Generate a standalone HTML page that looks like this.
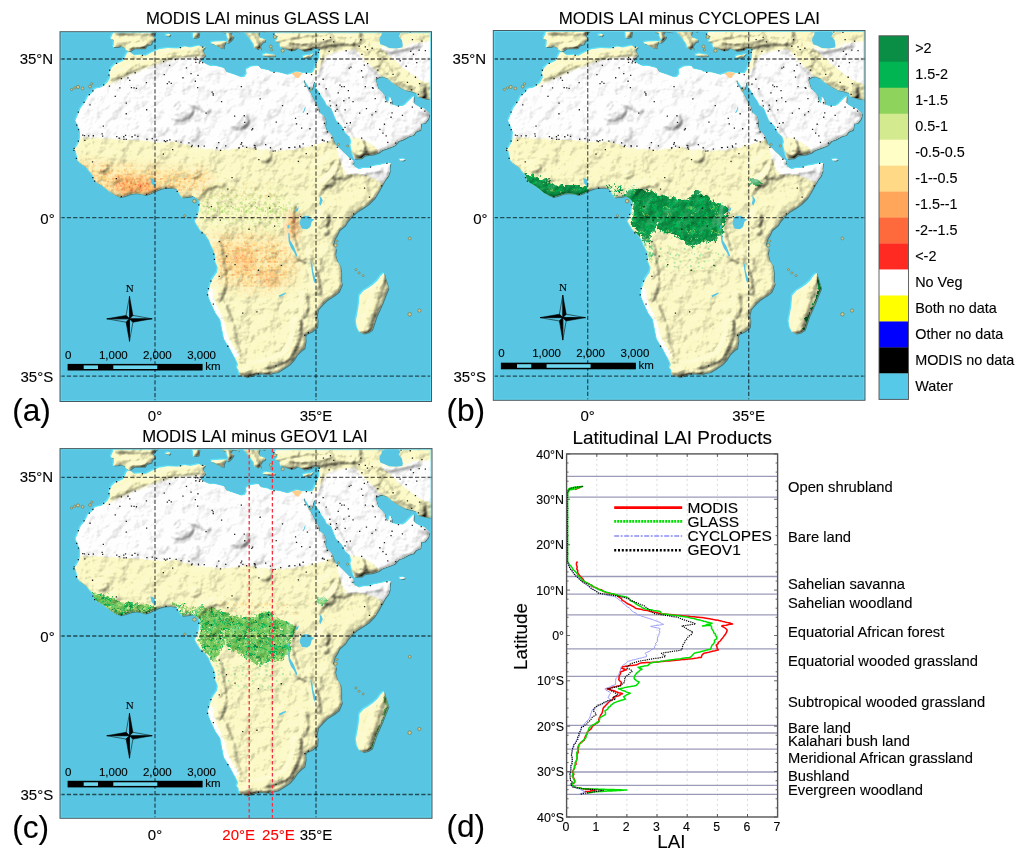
<!DOCTYPE html><html><head><meta charset="utf-8"><title>LAI comparison</title><style>html,body{margin:0;padding:0;background:#fff;width:1024px;height:858px;overflow:hidden}svg{display:block}text{font-family:"Liberation Sans", Arial, Helvetica, sans-serif;fill:#000;stroke:#000;stroke-width:0.22px;stroke-opacity:0.55}</style></head><body>
<svg width="1024" height="858" viewBox="0 0 1024 858">
<defs>
<filter id="hill" filterUnits="userSpaceOnUse" x="58.0" y="29.7" width="375.5" height="373.8" color-interpolation-filters="sRGB">
<feGaussianBlur in="SourceAlpha" stdDeviation="1.30" result="h"/>
<feGaussianBlur in="SourceAlpha" stdDeviation="5.00" result="m"/>
<feTurbulence type="fractalNoise" baseFrequency="0.065" numOctaves="4" seed="7" result="n1"/>
<feColorMatrix in="n1" type="matrix" values="0 0 0 0 0  0 0 0 0 0  0 0 0 0 0  1 0 0 0 0" result="n1a"/>
<feComposite in="n1a" in2="m" operator="arithmetic" k1="1.100" k2="0.060" result="n1m"/>
<feTurbulence type="fractalNoise" baseFrequency="0.160" numOctaves="2" seed="3" result="n2"/>
<feColorMatrix in="n2" type="matrix" values="0 0 0 0 0  0 0 0 0 0  0 0 0 0 0  0.070 0 0 0 0" result="n2a"/>
<feComposite in="h" in2="n1m" operator="arithmetic" k2="1" k3="1" result="hh1"/>
<feComposite in="hh1" in2="n2a" operator="arithmetic" k2="1" k3="1" result="hh"/>
<feDiffuseLighting in="hh" surfaceScale="5.00" diffuseConstant="1" lighting-color="#ffffff" result="lit"><feDistantLight azimuth="225" elevation="45"/></feDiffuseLighting>
<feColorMatrix in="lit" type="matrix" values="0 0 0 0 0  0 0 0 0 0  0 0 0 0 0  -1.3435 0 0 0 0.9500" result="dk"/>
<feColorMatrix in="lit" type="matrix" values="0 0 0 0 1  0 0 0 0 1  0 0 0 0 1  1.4142 0 0 0 -1.0000" result="lt"/>
<feMerge><feMergeNode in="dk"/><feMergeNode in="lt"/></feMerge>
</filter>
<g id="shade"><g filter="url(#hill)">
<rect x="60.0" y="31.7" width="371.5" height="369.8" fill="#000" fill-opacity="0.004"/>
<path d="M127.3 52.5 L130.0 52.1 L134.2 55.3 L141.1 54.8 L145.7 55.7 L151.6 52.5 L159.0 49.3 L168.2 47.9 L177.9 48.4 L184.8 46.5 L190.3 47.5 L199.5 45.6 L201.8 47.5 L205.5 46.5 L202.7 50.2 L204.1 53.4 L205.5 55.3 L200.9 59.4 L201.3 61.3 L205.5 64.0 L209.6 65.9 L215.1 65.9 L223.9 68.2 L226.6 72.3 L234.9 75.1 L241.3 77.4 L244.6 76.9 L246.9 73.7 L246.4 69.5 L251.0 66.8 L258.4 65.9 L261.1 69.1 L268.9 70.5 L270.3 71.8 L279.5 72.8 L287.8 75.1 L291.9 73.7 L297.0 71.8 L303.0 73.2 L311.7 73.2 L313.1 71.8 L314.5 69.5 L315.4 66.3 L316.3 64.0 L317.7 61.3 L319.1 58.0 L319.5 53.9 L319.1 50.7 L320.9 48.8 L318.2 48.4 L313.6 47.9 L310.3 50.2 L303.9 51.1 L297.0 47.9 L294.7 49.8 L290.6 50.7 L284.6 48.4 L280.4 47.0 L279.5 42.9 L275.4 41.0 L277.2 39.2 L277.7 36.0 L274.5 35.5 L274.9 32.7 L276.8 30.9 L274.0 29.5 L274.0 19.4 L439.6 19.4 L439.6 101.3 L437.8 100.4 L430.4 99.4 L424.9 98.5 L418.0 96.7 L416.1 93.0 L412.0 91.6 L405.1 90.2 L399.1 87.0 L392.7 82.9 L387.2 78.3 L382.1 76.4 L378.9 76.9 L376.1 78.7 L375.2 79.7 L376.1 82.0 L378.0 88.4 L382.6 93.0 L384.9 96.2 L385.3 99.4 L388.1 103.6 L389.9 97.1 L391.8 100.8 L391.8 104.5 L395.9 105.9 L402.8 106.3 L405.6 104.5 L409.2 100.8 L412.0 98.1 L413.8 95.8 L413.8 99.4 L413.4 102.7 L415.7 105.0 L420.3 107.7 L424.0 108.6 L429.5 113.7 L428.1 118.8 L424.9 122.9 L421.2 123.4 L420.3 129.8 L415.7 131.6 L413.4 134.9 L408.8 136.2 L402.8 139.5 L398.7 140.8 L394.5 145.4 L389.9 147.3 L382.1 150.0 L378.4 152.8 L372.9 154.6 L364.6 155.6 L361.4 158.3 L354.5 158.8 L353.1 156.0 L351.3 149.1 L350.4 145.0 L351.3 141.8 L349.9 136.7 L345.8 133.0 L342.1 126.1 L336.6 120.6 L334.3 115.1 L331.5 108.2 L326.9 105.0 L325.5 101.7 L322.3 97.1 L318.2 90.2 L316.3 87.9 L314.9 81.5 L313.6 82.4 L312.6 87.0 L311.7 89.3 L309.0 87.0 L304.4 79.7 L303.4 81.0 L304.8 84.7 L307.1 87.9 L310.3 93.0 L312.2 96.7 L315.4 103.1 L318.2 107.3 L319.1 112.3 L323.7 116.0 L325.5 120.6 L325.1 126.1 L326.4 130.3 L330.1 133.5 L332.0 136.2 L334.7 143.6 L337.0 146.4 L339.3 148.2 L343.0 151.9 L346.2 155.1 L349.0 157.9 L353.1 160.6 L353.6 162.9 L350.8 164.3 L353.1 164.8 L355.0 167.1 L359.1 169.4 L363.7 168.0 L368.8 168.0 L373.8 166.1 L379.3 165.2 L385.3 163.8 L390.4 162.9 L389.5 168.9 L389.9 170.7 L388.1 175.8 L384.9 179.9 L381.6 185.9 L378.0 192.4 L374.3 198.3 L368.8 203.9 L362.8 208.0 L356.8 211.7 L352.2 215.8 L347.1 221.8 L345.3 225.0 L342.1 227.8 L339.3 230.1 L337.0 235.1 L334.7 238.8 L332.9 245.3 L336.1 248.9 L335.2 254.0 L337.0 260.9 L340.2 265.5 L341.2 272.4 L341.2 281.6 L342.1 283.9 L338.9 291.7 L334.3 295.4 L326.9 300.0 L322.8 304.1 L318.2 309.2 L316.8 315.6 L317.7 320.2 L317.2 327.1 L312.2 331.3 L306.2 334.0 L305.3 336.3 L305.7 340.9 L304.4 348.3 L301.1 350.6 L297.0 354.7 L293.8 359.8 L289.6 364.4 L284.1 368.1 L277.7 372.2 L272.2 373.1 L268.5 374.5 L262.0 373.6 L256.5 374.1 L252.8 375.4 L246.4 377.3 L243.2 375.9 L239.5 375.0 L239.0 373.1 L238.6 369.9 L236.7 367.6 L238.1 364.4 L235.4 358.4 L230.3 348.8 L227.1 343.7 L224.3 339.1 L222.9 332.2 L221.1 323.0 L220.6 319.8 L216.0 313.3 L211.9 304.6 L208.7 296.8 L208.2 293.1 L210.5 283.9 L212.8 278.4 L217.0 272.4 L217.9 267.8 L215.1 260.9 L215.6 257.7 L213.7 250.3 L211.0 245.3 L210.5 243.9 L209.1 240.2 L205.5 235.1 L200.4 230.5 L197.2 225.5 L194.9 221.3 L197.2 216.3 L198.6 212.6 L199.5 206.6 L199.9 202.9 L198.1 199.3 L195.3 197.4 L192.6 196.0 L187.1 197.0 L182.0 197.4 L179.7 194.2 L176.5 188.7 L170.0 187.8 L163.6 188.2 L159.9 189.1 L154.4 191.4 L149.8 193.7 L145.2 195.1 L140.1 193.7 L136.0 193.3 L131.4 193.7 L124.5 196.0 L119.9 197.0 L115.3 195.1 L110.7 192.4 L106.1 188.7 L102.0 185.5 L96.9 182.7 L94.1 179.5 L93.2 175.8 L90.0 172.1 L86.8 168.0 L84.9 166.6 L79.9 162.9 L77.6 160.2 L77.1 156.5 L75.7 151.0 L73.9 149.6 L76.2 147.3 L78.5 143.1 L79.9 139.0 L80.3 132.1 L78.5 127.0 L76.7 122.9 L75.7 120.6 L77.6 116.0 L80.8 108.2 L83.6 104.5 L86.3 100.4 L88.2 96.2 L92.3 93.0 L95.1 88.9 L101.5 87.5 L107.5 82.4 L110.2 77.4 L109.3 72.8 L111.6 67.7 L115.3 64.0 L119.4 62.6 L123.1 60.8 L125.4 56.2 Z M108.4 19.4 L113.9 19.4 L113.5 28.6 L113.0 33.2 L110.7 38.7 L113.9 40.1 L113.9 44.7 L113.0 47.0 L117.6 47.0 L120.4 46.1 L125.0 47.9 L125.9 49.8 L128.6 51.6 L130.0 51.1 L134.2 48.4 L140.6 48.4 L144.7 48.4 L146.6 45.6 L151.2 44.2 L152.1 41.5 L155.3 39.2 L153.0 36.0 L154.4 33.2 L157.6 30.4 L159.0 28.6 L164.5 26.8 L169.1 24.5 L169.1 19.4 Z M207.3 19.4 L207.3 22.6 L211.9 26.3 L214.2 27.7 L218.8 29.5 L222.9 32.3 L226.2 33.2 L227.1 36.9 L228.5 39.6 L226.2 42.4 L228.0 42.9 L230.8 40.6 L233.1 37.8 L233.5 36.0 L230.3 34.6 L232.1 31.4 L236.7 31.8 L239.5 32.7 L237.2 30.4 L232.6 28.1 L228.0 26.3 L227.1 19.4 Z M243.2 19.4 L244.1 27.2 L243.6 31.4 L246.4 34.6 L249.6 38.3 L251.5 41.0 L253.8 44.2 L254.2 47.5 L257.4 49.3 L259.3 47.9 L261.1 49.8 L260.2 45.6 L262.5 42.4 L264.8 41.5 L265.3 39.6 L260.2 37.8 L258.4 35.0 L259.7 30.4 L263.9 31.8 L266.2 29.5 L271.7 29.1 L274.0 29.5 L274.0 19.4 Z M211.4 41.9 L216.0 41.5 L226.2 41.0 L223.9 45.6 L223.9 48.4 L220.6 47.9 L213.7 44.2 L211.4 43.3 Z M192.1 27.2 L198.1 27.2 L199.5 30.9 L198.6 36.9 L195.8 37.8 L193.0 37.8 L193.0 33.2 L192.1 30.4 Z M165.0 35.0 L168.7 33.7 L170.5 34.6 L169.1 36.4 L166.8 35.5 Z M262.5 54.8 L266.2 53.4 L271.7 54.4 L275.4 54.8 L274.9 56.2 L268.5 56.7 L263.0 55.3 Z M303.0 56.2 L305.7 55.3 L310.3 54.8 L313.6 53.0 L310.8 56.7 L306.2 58.0 L303.4 57.6 Z M383.9 272.9 L386.2 280.7 L388.5 288.0 L385.8 294.5 L383.0 301.8 L379.8 309.2 L376.6 316.1 L374.3 323.0 L372.0 329.9 L367.8 332.7 L363.2 333.6 L359.1 331.7 L356.8 327.1 L355.9 320.7 L357.3 313.8 L358.6 306.4 L359.6 295.4 L363.7 290.8 L368.3 288.0 L373.4 284.4 L377.5 280.7 L380.7 276.1 Z M399.6 159.2 L403.7 158.8 L405.1 159.7 L402.8 160.6 L400.0 160.2 Z" fill="#000" fill-opacity="0.120"/>
<path d="M110.7 76.9 L122.2 73.2 L131.4 67.7 L145.2 63.1 L159.0 58.5 L172.8 53.9 L186.6 52.5 L195.8 52.5" fill="none" stroke="#000" stroke-opacity="0.10" stroke-width="7.4" stroke-linecap="round" stroke-linejoin="round"/>
<path d="M131.4 55.3 L154.4 53.0 L177.4 50.2 L195.8 48.4" fill="none" stroke="#000" stroke-opacity="0.07" stroke-width="4.6" stroke-linecap="round" stroke-linejoin="round"/>
<ellipse cx="179.7" cy="109.1" rx="13.8" ry="11.5" fill="#000" fill-opacity="0.19"/>
<path d="M184.3 99.9 L195.8 104.5 L207.3 110.5" fill="none" stroke="#000" stroke-opacity="0.19" stroke-width="5.5" stroke-linecap="round" stroke-linejoin="round"/>
<ellipse cx="238.6" cy="120.6" rx="10.1" ry="8.3" fill="#000" fill-opacity="0.23"/>
<ellipse cx="193.5" cy="133.0" rx="5.5" ry="8.3" fill="#000" fill-opacity="0.12"/>
<ellipse cx="257.9" cy="139.0" rx="6.9" ry="5.5" fill="#000" fill-opacity="0.11"/>
<ellipse cx="264.8" cy="155.1" rx="6.9" ry="6.9" fill="#000" fill-opacity="0.11"/>
<ellipse cx="161.3" cy="127.5" rx="6.9" ry="6.9" fill="#000" fill-opacity="0.07"/>
<ellipse cx="271.7" cy="111.4" rx="6.9" ry="5.5" fill="#000" fill-opacity="0.08"/>
<path d="M306.2 88.4 L313.1 102.2 L320.0 116.0 L324.6 129.8" fill="none" stroke="#000" stroke-opacity="0.14" stroke-width="6.9" stroke-linecap="round" stroke-linejoin="round"/>
<ellipse cx="326.9" cy="164.3" rx="6.9" ry="6.9" fill="#000" fill-opacity="0.14"/>
<ellipse cx="336.1" cy="173.5" rx="6.4" ry="6.4" fill="#000" fill-opacity="0.14"/>
<ellipse cx="329.2" cy="180.4" rx="6.0" ry="6.0" fill="#000" fill-opacity="0.13"/>
<ellipse cx="322.3" cy="185.0" rx="5.1" ry="5.1" fill="#000" fill-opacity="0.12"/>
<ellipse cx="331.5" cy="157.4" rx="4.6" ry="6.0" fill="#000" fill-opacity="0.12"/>
<path d="M320.0 191.9 L326.9 180.4 L336.1 168.9 L338.4 159.7" fill="none" stroke="#000" stroke-opacity="0.11" stroke-width="5.5" stroke-linecap="round" stroke-linejoin="round"/>
<ellipse cx="345.3" cy="175.8" rx="4.6" ry="3.7" fill="#000" fill-opacity="0.11"/>
<path d="M347.6 173.5 L366.0 172.1 L379.8 168.9" fill="none" stroke="#000" stroke-opacity="0.14" stroke-width="5.5" stroke-linecap="round" stroke-linejoin="round"/>
<ellipse cx="322.3" cy="219.5" rx="6.9" ry="9.2" fill="#000" fill-opacity="0.17"/>
<ellipse cx="326.0" cy="231.5" rx="3.2" ry="3.2" fill="#000" fill-opacity="0.19"/>
<path d="M292.4 208.0 L290.1 221.8 L289.2 231.0 L291.5 240.2 L296.1 254.0 L308.5 260.9 L312.2 267.8 L315.4 277.0 L317.7 290.8" fill="none" stroke="#000" stroke-opacity="0.17" stroke-width="6.9" stroke-linecap="round" stroke-linejoin="round"/>
<path d="M196.7 197.9 L200.4 191.9 L205.0 187.3 L214.2 183.6 L221.1 184.1" fill="none" stroke="#000" stroke-opacity="0.14" stroke-width="6.9" stroke-linecap="round" stroke-linejoin="round"/>
<ellipse cx="101.5" cy="166.6" rx="6.9" ry="5.5" fill="#000" fill-opacity="0.12"/>
<ellipse cx="115.3" cy="178.1" rx="4.6" ry="4.6" fill="#000" fill-opacity="0.07"/>
<ellipse cx="195.8" cy="173.5" rx="4.6" ry="4.6" fill="#000" fill-opacity="0.10"/>
<path d="M216.5 244.8 L218.8 258.6 L221.1 272.4 L221.1 286.2 L217.9 295.4" fill="none" stroke="#000" stroke-opacity="0.14" stroke-width="10.1" stroke-linecap="round" stroke-linejoin="round"/>
<path d="M218.8 300.0 L225.7 313.8 L230.3 327.6 L232.6 341.4 L237.2 355.2" fill="none" stroke="#000" stroke-opacity="0.12" stroke-width="8.3" stroke-linecap="round" stroke-linejoin="round"/>
<path d="M239.5 362.1 L246.4 366.7 L260.2 365.8 L274.0 362.1 L285.5 357.5 L290.1 350.6 L294.7 341.4 L297.0 332.2 L297.0 323.0" fill="none" stroke="#000" stroke-opacity="0.18" stroke-width="9.2" stroke-linecap="round" stroke-linejoin="round"/>
<path d="M239.5 371.3 L246.4 371.8 L255.6 372.7 L267.1 372.2" fill="none" stroke="#000" stroke-opacity="0.17" stroke-width="4.6" stroke-linecap="round" stroke-linejoin="round"/>
<path d="M303.9 295.4 L305.3 304.6 L303.9 313.8" fill="none" stroke="#000" stroke-opacity="0.14" stroke-width="6.9" stroke-linecap="round" stroke-linejoin="round"/>
<ellipse cx="292.4" cy="304.6" rx="9.2" ry="9.2" fill="#000" fill-opacity="0.07"/>
<path d="M310.8 254.0 L317.7 258.6 L320.0 267.8" fill="none" stroke="#000" stroke-opacity="0.12" stroke-width="5.5" stroke-linecap="round" stroke-linejoin="round"/>
<path d="M380.7 279.3 L376.6 293.1 L372.0 306.9 L368.3 318.4 L365.1 329.0" fill="none" stroke="#000" stroke-opacity="0.11" stroke-width="9.2" stroke-linecap="round" stroke-linejoin="round"/>
<path d="M317.7 86.1 L324.6 97.6 L333.8 111.4 L340.7 125.2 L349.9 139.0 L356.8 150.5 L363.7 154.2" fill="none" stroke="#000" stroke-opacity="0.17" stroke-width="9.2" stroke-linecap="round" stroke-linejoin="round"/>
<ellipse cx="359.1" cy="148.2" rx="6.9" ry="9.2" fill="#000" fill-opacity="0.19"/>
<ellipse cx="375.2" cy="148.2" rx="13.8" ry="4.6" fill="#000" fill-opacity="0.12"/>
<path d="M413.4 99.9 L418.9 109.1 L425.8 113.2" fill="none" stroke="#000" stroke-opacity="0.14" stroke-width="4.6" stroke-linecap="round" stroke-linejoin="round"/>
<path d="M356.8 44.7 L368.3 56.2 L377.5 65.4 L386.7 74.6 L395.9 81.5 L407.4 88.4 L418.9 93.0" fill="none" stroke="#000" stroke-opacity="0.19" stroke-width="13.8" stroke-linecap="round" stroke-linejoin="round"/>
<path d="M377.5 47.0 L389.0 50.7 L402.8 47.9 L416.6 44.7" fill="none" stroke="#000" stroke-opacity="0.17" stroke-width="5.5" stroke-linecap="round" stroke-linejoin="round"/>
<path d="M407.4 70.0 L421.2 79.2 L430.4 83.8" fill="none" stroke="#000" stroke-opacity="0.10" stroke-width="9.2" stroke-linecap="round" stroke-linejoin="round"/>
<path d="M287.8 45.6 L301.6 47.0 L315.4 44.7 L329.2 41.5 L343.0 40.1 L356.8 40.1" fill="none" stroke="#000" stroke-opacity="0.19" stroke-width="9.2" stroke-linecap="round" stroke-linejoin="round"/>
<ellipse cx="306.2" cy="35.5" rx="27.6" ry="9.2" fill="#000" fill-opacity="0.12"/>
<path d="M278.6 37.8 L292.4 34.1 L306.2 31.8 L320.0 30.9 L338.4 31.8 L356.8 33.2" fill="none" stroke="#000" stroke-opacity="0.14" stroke-width="9.2" stroke-linecap="round" stroke-linejoin="round"/>
<path d="M361.4 42.4 L372.9 53.9 L384.4 65.4 L395.9 74.6 L407.4 81.5 L421.2 87.5" fill="none" stroke="#000" stroke-opacity="0.14" stroke-width="9.2" stroke-linecap="round" stroke-linejoin="round"/>
<path d="M317.7 74.6 L320.0 65.4 L321.4 56.2" fill="none" stroke="#000" stroke-opacity="0.14" stroke-width="3.7" stroke-linecap="round" stroke-linejoin="round"/>
<ellipse cx="309.9" cy="84.7" rx="4.6" ry="4.6" fill="#000" fill-opacity="0.12"/>
<path d="M117.6 30.9 L136.0 30.9 L149.8 31.8" fill="none" stroke="#000" stroke-opacity="0.14" stroke-width="6.9" stroke-linecap="round" stroke-linejoin="round"/>
<path d="M131.4 47.0 L140.6 46.5 L145.2 45.6" fill="none" stroke="#000" stroke-opacity="0.17" stroke-width="4.6" stroke-linecap="round" stroke-linejoin="round"/>
<path d="M122.2 41.5 L136.0 41.0" fill="none" stroke="#000" stroke-opacity="0.10" stroke-width="3.7" stroke-linecap="round" stroke-linejoin="round"/>
<path d="M211.9 24.0 L221.1 28.6 L228.0 33.2 L228.9 38.7" fill="none" stroke="#000" stroke-opacity="0.17" stroke-width="4.6" stroke-linecap="round" stroke-linejoin="round"/>
<ellipse cx="218.8" cy="43.3" rx="3.7" ry="2.3" fill="#000" fill-opacity="0.12"/>
<ellipse cx="195.8" cy="33.2" rx="3.2" ry="4.1" fill="#000" fill-opacity="0.12"/>
<path d="M246.4 28.6 L251.9 35.5 L255.6 42.4 L257.0 45.6" fill="none" stroke="#000" stroke-opacity="0.17" stroke-width="5.5" stroke-linecap="round" stroke-linejoin="round"/>
<ellipse cx="268.5" cy="55.1" rx="5.5" ry="1.1" fill="#000" fill-opacity="0.14"/>
<ellipse cx="306.2" cy="56.2" rx="2.3" ry="1.4" fill="#000" fill-opacity="0.12"/>
</g></g>
<path id="landA" d="M127.3 52.5 L130.0 52.1 L134.2 55.3 L141.1 54.8 L145.7 55.7 L151.6 52.5 L159.0 49.3 L168.2 47.9 L177.9 48.4 L184.8 46.5 L190.3 47.5 L199.5 45.6 L201.8 47.5 L205.5 46.5 L202.7 50.2 L204.1 53.4 L205.5 55.3 L200.9 59.4 L201.3 61.3 L205.5 64.0 L209.6 65.9 L215.1 65.9 L223.9 68.2 L226.6 72.3 L234.9 75.1 L241.3 77.4 L244.6 76.9 L246.9 73.7 L246.4 69.5 L251.0 66.8 L258.4 65.9 L261.1 69.1 L268.9 70.5 L270.3 71.8 L279.5 72.8 L287.8 75.1 L291.9 73.7 L297.0 71.8 L303.0 73.2 L311.7 73.2 L313.1 71.8 L314.5 69.5 L315.4 66.3 L316.3 64.0 L317.7 61.3 L319.1 58.0 L319.5 53.9 L319.1 50.7 L320.9 48.8 L318.2 48.4 L313.6 47.9 L310.3 50.2 L303.9 51.1 L297.0 47.9 L294.7 49.8 L290.6 50.7 L284.6 48.4 L280.4 47.0 L279.5 42.9 L275.4 41.0 L277.2 39.2 L277.7 36.0 L274.5 35.5 L274.9 32.7 L276.8 30.9 L274.0 29.5 L274.0 19.4 L439.6 19.4 L439.6 101.3 L437.8 100.4 L430.4 99.4 L424.9 98.5 L418.0 96.7 L416.1 93.0 L412.0 91.6 L405.1 90.2 L399.1 87.0 L392.7 82.9 L387.2 78.3 L382.1 76.4 L378.9 76.9 L376.1 78.7 L375.2 79.7 L376.1 82.0 L378.0 88.4 L382.6 93.0 L384.9 96.2 L385.3 99.4 L388.1 103.6 L389.9 97.1 L391.8 100.8 L391.8 104.5 L395.9 105.9 L402.8 106.3 L405.6 104.5 L409.2 100.8 L412.0 98.1 L413.8 95.8 L413.8 99.4 L413.4 102.7 L415.7 105.0 L420.3 107.7 L424.0 108.6 L429.5 113.7 L428.1 118.8 L424.9 122.9 L421.2 123.4 L420.3 129.8 L415.7 131.6 L413.4 134.9 L408.8 136.2 L402.8 139.5 L398.7 140.8 L394.5 145.4 L389.9 147.3 L382.1 150.0 L378.4 152.8 L372.9 154.6 L364.6 155.6 L361.4 158.3 L354.5 158.8 L353.1 156.0 L351.3 149.1 L350.4 145.0 L351.3 141.8 L349.9 136.7 L345.8 133.0 L342.1 126.1 L336.6 120.6 L334.3 115.1 L331.5 108.2 L326.9 105.0 L325.5 101.7 L322.3 97.1 L318.2 90.2 L316.3 87.9 L314.9 81.5 L313.6 82.4 L312.6 87.0 L311.7 89.3 L309.0 87.0 L304.4 79.7 L303.4 81.0 L304.8 84.7 L307.1 87.9 L310.3 93.0 L312.2 96.7 L315.4 103.1 L318.2 107.3 L319.1 112.3 L323.7 116.0 L325.5 120.6 L325.1 126.1 L326.4 130.3 L330.1 133.5 L332.0 136.2 L334.7 143.6 L337.0 146.4 L339.3 148.2 L343.0 151.9 L346.2 155.1 L349.0 157.9 L353.1 160.6 L353.6 162.9 L350.8 164.3 L353.1 164.8 L355.0 167.1 L359.1 169.4 L363.7 168.0 L368.8 168.0 L373.8 166.1 L379.3 165.2 L385.3 163.8 L390.4 162.9 L389.5 168.9 L389.9 170.7 L388.1 175.8 L384.9 179.9 L381.6 185.9 L378.0 192.4 L374.3 198.3 L368.8 203.9 L362.8 208.0 L356.8 211.7 L352.2 215.8 L347.1 221.8 L345.3 225.0 L342.1 227.8 L339.3 230.1 L337.0 235.1 L334.7 238.8 L332.9 245.3 L336.1 248.9 L335.2 254.0 L337.0 260.9 L340.2 265.5 L341.2 272.4 L341.2 281.6 L342.1 283.9 L338.9 291.7 L334.3 295.4 L326.9 300.0 L322.8 304.1 L318.2 309.2 L316.8 315.6 L317.7 320.2 L317.2 327.1 L312.2 331.3 L306.2 334.0 L305.3 336.3 L305.7 340.9 L304.4 348.3 L301.1 350.6 L297.0 354.7 L293.8 359.8 L289.6 364.4 L284.1 368.1 L277.7 372.2 L272.2 373.1 L268.5 374.5 L262.0 373.6 L256.5 374.1 L252.8 375.4 L246.4 377.3 L243.2 375.9 L239.5 375.0 L239.0 373.1 L238.6 369.9 L236.7 367.6 L238.1 364.4 L235.4 358.4 L230.3 348.8 L227.1 343.7 L224.3 339.1 L222.9 332.2 L221.1 323.0 L220.6 319.8 L216.0 313.3 L211.9 304.6 L208.7 296.8 L208.2 293.1 L210.5 283.9 L212.8 278.4 L217.0 272.4 L217.9 267.8 L215.1 260.9 L215.6 257.7 L213.7 250.3 L211.0 245.3 L210.5 243.9 L209.1 240.2 L205.5 235.1 L200.4 230.5 L197.2 225.5 L194.9 221.3 L197.2 216.3 L198.6 212.6 L199.5 206.6 L199.9 202.9 L198.1 199.3 L195.3 197.4 L192.6 196.0 L187.1 197.0 L182.0 197.4 L179.7 194.2 L176.5 188.7 L170.0 187.8 L163.6 188.2 L159.9 189.1 L154.4 191.4 L149.8 193.7 L145.2 195.1 L140.1 193.7 L136.0 193.3 L131.4 193.7 L124.5 196.0 L119.9 197.0 L115.3 195.1 L110.7 192.4 L106.1 188.7 L102.0 185.5 L96.9 182.7 L94.1 179.5 L93.2 175.8 L90.0 172.1 L86.8 168.0 L84.9 166.6 L79.9 162.9 L77.6 160.2 L77.1 156.5 L75.7 151.0 L73.9 149.6 L76.2 147.3 L78.5 143.1 L79.9 139.0 L80.3 132.1 L78.5 127.0 L76.7 122.9 L75.7 120.6 L77.6 116.0 L80.8 108.2 L83.6 104.5 L86.3 100.4 L88.2 96.2 L92.3 93.0 L95.1 88.9 L101.5 87.5 L107.5 82.4 L110.2 77.4 L109.3 72.8 L111.6 67.7 L115.3 64.0 L119.4 62.6 L123.1 60.8 L125.4 56.2 Z M108.4 19.4 L113.9 19.4 L113.5 28.6 L113.0 33.2 L110.7 38.7 L113.9 40.1 L113.9 44.7 L113.0 47.0 L117.6 47.0 L120.4 46.1 L125.0 47.9 L125.9 49.8 L128.6 51.6 L130.0 51.1 L134.2 48.4 L140.6 48.4 L144.7 48.4 L146.6 45.6 L151.2 44.2 L152.1 41.5 L155.3 39.2 L153.0 36.0 L154.4 33.2 L157.6 30.4 L159.0 28.6 L164.5 26.8 L169.1 24.5 L169.1 19.4 Z M207.3 19.4 L207.3 22.6 L211.9 26.3 L214.2 27.7 L218.8 29.5 L222.9 32.3 L226.2 33.2 L227.1 36.9 L228.5 39.6 L226.2 42.4 L228.0 42.9 L230.8 40.6 L233.1 37.8 L233.5 36.0 L230.3 34.6 L232.1 31.4 L236.7 31.8 L239.5 32.7 L237.2 30.4 L232.6 28.1 L228.0 26.3 L227.1 19.4 Z M243.2 19.4 L244.1 27.2 L243.6 31.4 L246.4 34.6 L249.6 38.3 L251.5 41.0 L253.8 44.2 L254.2 47.5 L257.4 49.3 L259.3 47.9 L261.1 49.8 L260.2 45.6 L262.5 42.4 L264.8 41.5 L265.3 39.6 L260.2 37.8 L258.4 35.0 L259.7 30.4 L263.9 31.8 L266.2 29.5 L271.7 29.1 L274.0 29.5 L274.0 19.4 Z M211.4 41.9 L216.0 41.5 L226.2 41.0 L223.9 45.6 L223.9 48.4 L220.6 47.9 L213.7 44.2 L211.4 43.3 Z M192.1 27.2 L198.1 27.2 L199.5 30.9 L198.6 36.9 L195.8 37.8 L193.0 37.8 L193.0 33.2 L192.1 30.4 Z M165.0 35.0 L168.7 33.7 L170.5 34.6 L169.1 36.4 L166.8 35.5 Z M262.5 54.8 L266.2 53.4 L271.7 54.4 L275.4 54.8 L274.9 56.2 L268.5 56.7 L263.0 55.3 Z M303.0 56.2 L305.7 55.3 L310.3 54.8 L313.6 53.0 L310.8 56.7 L306.2 58.0 L303.4 57.6 Z M383.9 272.9 L386.2 280.7 L388.5 288.0 L385.8 294.5 L383.0 301.8 L379.8 309.2 L376.6 316.1 L374.3 323.0 L372.0 329.9 L367.8 332.7 L363.2 333.6 L359.1 331.7 L356.8 327.1 L355.9 320.7 L357.3 313.8 L358.6 306.4 L359.6 295.4 L363.7 290.8 L368.3 288.0 L373.4 284.4 L377.5 280.7 L380.7 276.1 Z M399.6 159.2 L403.7 158.8 L405.1 159.7 L402.8 160.6 L400.0 160.2 Z"/>
<clipPath id="lda"><use href="#landA" transform="translate(0.0,0.0)"/></clipPath>
<clipPath id="ldb"><use href="#landA" transform="translate(432.7,0.0)"/></clipPath>
<clipPath id="ldc"><use href="#landA" transform="translate(0.0,418.4)"/></clipPath>
<g id="base1">
<use href="#landA" fill="#5EE0F6" transform="translate(-1.3,-1.1)"/>
<use href="#landA" fill="#5EE0F6" transform="translate(-0.6,0.4)"/>
<use href="#landA" fill="#3c3a28" fill-opacity="0.55" transform="translate(0.9,0.9)"/>
<circle cx="71.6" cy="89.5" r="1.1" fill="#5EE0F6"/><circle cx="74.8" cy="87.9" r="1.1" fill="#5EE0F6"/><circle cx="78.0" cy="87.0" r="1.6" fill="#5EE0F6"/><circle cx="82.6" cy="88.4" r="1.4" fill="#5EE0F6"/><circle cx="90.0" cy="86.6" r="1.4" fill="#5EE0F6"/><circle cx="91.8" cy="83.8" r="1.1" fill="#5EE0F6"/><circle cx="355.9" cy="269.6" r="1.0" fill="#5EE0F6"/><circle cx="359.1" cy="272.9" r="1.0" fill="#5EE0F6"/><circle cx="363.2" cy="275.6" r="1.0" fill="#5EE0F6"/><circle cx="409.7" cy="314.3" r="1.8" fill="#5EE0F6"/><circle cx="419.4" cy="310.6" r="1.6" fill="#5EE0F6"/><circle cx="409.7" cy="238.4" r="1.4" fill="#5EE0F6"/><circle cx="194.4" cy="201.1" r="1.8" fill="#5EE0F6"/><circle cx="184.8" cy="215.8" r="1.1" fill="#5EE0F6"/><circle cx="335.6" cy="245.3" r="1.6" fill="#5EE0F6"/><circle cx="337.0" cy="241.1" r="1.1" fill="#5EE0F6"/><circle cx="282.7" cy="50.7" r="1.6" fill="#5EE0F6"/><circle cx="270.8" cy="46.5" r="1.4" fill="#5EE0F6"/><circle cx="271.7" cy="49.8" r="1.1" fill="#5EE0F6"/><circle cx="274.9" cy="36.9" r="1.6" fill="#5EE0F6"/><circle cx="309.9" cy="90.2" r="1.0" fill="#5EE0F6"/><circle cx="347.6" cy="145.9" r="1.0" fill="#5EE0F6"/><circle cx="338.4" cy="144.5" r="1.0" fill="#5EE0F6"/>
<use href="#landA" fill="#FCF9C5"/>
<circle cx="71.6" cy="89.5" r="1.1" fill="#CFC890" stroke="#6e6a40" stroke-width="0.6"/><circle cx="74.8" cy="87.9" r="1.1" fill="#CFC890" stroke="#6e6a40" stroke-width="0.6"/><circle cx="78.0" cy="87.0" r="1.6" fill="#CFC890" stroke="#6e6a40" stroke-width="0.6"/><circle cx="82.6" cy="88.4" r="1.4" fill="#CFC890" stroke="#6e6a40" stroke-width="0.6"/><circle cx="90.0" cy="86.6" r="1.4" fill="#CFC890" stroke="#6e6a40" stroke-width="0.6"/><circle cx="91.8" cy="83.8" r="1.1" fill="#CFC890" stroke="#6e6a40" stroke-width="0.6"/><circle cx="355.9" cy="269.6" r="1.0" fill="#CFC890" stroke="#6e6a40" stroke-width="0.6"/><circle cx="359.1" cy="272.9" r="1.0" fill="#CFC890" stroke="#6e6a40" stroke-width="0.6"/><circle cx="363.2" cy="275.6" r="1.0" fill="#CFC890" stroke="#6e6a40" stroke-width="0.6"/><circle cx="409.7" cy="314.3" r="1.8" fill="#CFC890" stroke="#6e6a40" stroke-width="0.6"/><circle cx="419.4" cy="310.6" r="1.6" fill="#CFC890" stroke="#6e6a40" stroke-width="0.6"/><circle cx="409.7" cy="238.4" r="1.4" fill="#CFC890" stroke="#6e6a40" stroke-width="0.6"/><circle cx="194.4" cy="201.1" r="1.8" fill="#CFC890" stroke="#6e6a40" stroke-width="0.6"/><circle cx="184.8" cy="215.8" r="1.1" fill="#CFC890" stroke="#6e6a40" stroke-width="0.6"/><circle cx="335.6" cy="245.3" r="1.6" fill="#CFC890" stroke="#6e6a40" stroke-width="0.6"/><circle cx="337.0" cy="241.1" r="1.1" fill="#CFC890" stroke="#6e6a40" stroke-width="0.6"/><circle cx="282.7" cy="50.7" r="1.6" fill="#CFC890" stroke="#6e6a40" stroke-width="0.6"/><circle cx="270.8" cy="46.5" r="1.4" fill="#CFC890" stroke="#6e6a40" stroke-width="0.6"/><circle cx="271.7" cy="49.8" r="1.1" fill="#CFC890" stroke="#6e6a40" stroke-width="0.6"/><circle cx="274.9" cy="36.9" r="1.6" fill="#CFC890" stroke="#6e6a40" stroke-width="0.6"/><circle cx="309.9" cy="90.2" r="1.0" fill="#CFC890" stroke="#6e6a40" stroke-width="0.6"/><circle cx="347.6" cy="145.9" r="1.0" fill="#CFC890" stroke="#6e6a40" stroke-width="0.6"/><circle cx="338.4" cy="144.5" r="1.0" fill="#CFC890" stroke="#6e6a40" stroke-width="0.6"/>
<g clip-path="url(#lda)"><g fill="#FDFDFD" filter="url(#rough2)">
<path d="M62.4 86.1 L103.8 85.6 L108.9 83.8 L119.9 78.3 L130.9 73.7 L142.9 68.6 L153.5 64.5 L163.6 60.8 L173.7 58.5 L186.6 57.1 L201.8 56.2 L207.3 56.2 L209.6 60.8 L246.4 60.8 L287.8 67.7 L303.0 70.0 L303.9 76.9 L306.2 83.8 L313.1 93.0 L322.3 109.1 L329.2 122.9 L338.4 139.0 L347.6 150.5 L355.0 160.2 L366.0 161.1 L393.6 159.7 L393.6 180.4 L384.9 182.2 L379.3 180.4 L368.8 175.8 L358.2 173.0 L346.7 174.0 L343.0 168.9 L339.8 159.7 L336.6 148.7 L333.8 137.2 L329.2 139.5 L322.3 142.7 L313.1 144.1 L294.2 148.7 L270.8 149.8 L247.3 146.4 L223.4 149.1 L209.6 148.2 L194.4 146.4 L184.3 143.6 L174.6 140.4 L163.6 140.8 L155.3 141.3 L145.2 139.5 L126.8 138.5 L106.1 137.6 L79.0 136.7 L62.4 136.2 Z"/>
<path d="M303.4 80.1 L303.4 72.3 L310.8 72.3 L315.4 73.7 L319.1 67.7 L322.8 60.8 L326.9 53.9 L338.4 50.2 L354.5 48.8 L363.7 58.5 L372.9 67.7 L382.1 76.9 L391.3 86.1 L402.8 93.0 L416.6 98.5 L439.6 102.2 L439.6 171.2 L378.0 171.2 L378.0 149.1 L368.3 141.8 L359.1 137.6 L349.9 136.2 L341.2 135.3 L329.2 122.9 L322.3 109.1 L313.1 93.0 L306.2 83.8 Z"/>
<path d="M379.8 47.0 L389.0 54.8 L399.1 64.0 L409.7 72.8 L421.2 79.7 L430.4 83.3 L439.6 84.7 L439.6 40.1 L412.0 42.4 L402.8 47.5 L389.0 48.8 L382.1 45.2 Z"/>
<path d="M205.0 285.3 L211.9 287.6 L212.4 295.4 L215.6 304.6 L220.2 313.8 L223.9 323.0 L226.2 332.2 L228.9 339.1 L232.6 346.0 L236.3 351.5 L238.6 354.3 L232.6 357.5 L218.8 336.8 L214.2 318.4 L205.0 300.0 Z"/>
<path d="M385.8 180.4 L380.7 189.6 L376.6 194.2 L373.4 196.5 L377.5 196.5 L384.4 188.7 L389.0 180.4 Z"/>
</g></g>
</g>
<g id="base2">
<g clip-path="url(#lda)"><use href="#shade"/></g>
<g clip-path="url(#lda)" fill="#fff" fill-opacity="0.36">
<path d="M62.4 86.1 L103.8 85.6 L108.9 83.8 L119.9 78.3 L130.9 73.7 L142.9 68.6 L153.5 64.5 L163.6 60.8 L173.7 58.5 L186.6 57.1 L201.8 56.2 L207.3 56.2 L209.6 60.8 L246.4 60.8 L287.8 67.7 L303.0 70.0 L303.9 76.9 L306.2 83.8 L313.1 93.0 L322.3 109.1 L329.2 122.9 L338.4 139.0 L347.6 150.5 L355.0 160.2 L366.0 161.1 L393.6 159.7 L393.6 180.4 L384.9 182.2 L379.3 180.4 L368.8 175.8 L358.2 173.0 L346.7 174.0 L343.0 168.9 L339.8 159.7 L336.6 148.7 L333.8 137.2 L329.2 139.5 L322.3 142.7 L313.1 144.1 L294.2 148.7 L270.8 149.8 L247.3 146.4 L223.4 149.1 L209.6 148.2 L194.4 146.4 L184.3 143.6 L174.6 140.4 L163.6 140.8 L155.3 141.3 L145.2 139.5 L126.8 138.5 L106.1 137.6 L79.0 136.7 L62.4 136.2 Z"/>
<path d="M303.4 80.1 L303.4 72.3 L310.8 72.3 L315.4 73.7 L319.1 67.7 L322.8 60.8 L326.9 53.9 L338.4 50.2 L354.5 48.8 L363.7 58.5 L372.9 67.7 L382.1 76.9 L391.3 86.1 L402.8 93.0 L416.6 98.5 L439.6 102.2 L439.6 171.2 L378.0 171.2 L378.0 149.1 L368.3 141.8 L359.1 137.6 L349.9 136.2 L341.2 135.3 L329.2 122.9 L322.3 109.1 L313.1 93.0 L306.2 83.8 Z"/>
<path d="M379.8 47.0 L389.0 54.8 L399.1 64.0 L409.7 72.8 L421.2 79.7 L430.4 83.3 L439.6 84.7 L439.6 40.1 L412.0 42.4 L402.8 47.5 L389.0 48.8 L382.1 45.2 Z"/>
<path d="M205.0 285.3 L211.9 287.6 L212.4 295.4 L215.6 304.6 L220.2 313.8 L223.9 323.0 L226.2 332.2 L228.9 339.1 L232.6 346.0 L236.3 351.5 L238.6 354.3 L232.6 357.5 L218.8 336.8 L214.2 318.4 L205.0 300.0 Z"/>
<path d="M385.8 180.4 L380.7 189.6 L376.6 194.2 L373.4 196.5 L377.5 196.5 L384.4 188.7 L389.0 180.4 Z"/>
</g>
<path d="M300.7 218.6 L303.9 215.8 L308.5 215.8 L311.3 218.6 L314.5 219.5 L311.7 221.8 L310.3 226.9 L307.1 229.2 L302.1 228.7 L299.8 224.1 L300.2 220.9 Z" fill="#58C6E2"/>
<path d="M288.5 232.4 L289.6 233.8 L290.1 240.2 L293.8 246.2 L295.2 249.9 L297.5 255.8 L296.1 256.8 L294.0 252.2 L291.0 248.0 L288.7 242.0 L288.3 236.5 Z" fill="#58C6E2"/>
<path d="M310.8 260.9 L312.6 265.5 L313.1 271.0 L315.9 279.8 L314.9 283.0 L313.6 281.1 L312.2 273.8 L311.3 267.8 L310.6 263.2 Z" fill="#58C6E2"/>
<path d="M379.3 19.4 L378.4 24.9 L382.1 30.4 L385.8 31.4 L381.6 32.3 L381.6 35.0 L379.8 37.8 L379.3 40.6 L380.3 44.2 L385.3 46.1 L389.0 47.9 L395.9 48.4 L402.3 47.5 L402.8 45.2 L401.9 40.1 L398.7 36.4 L400.5 33.2 L397.7 30.4 L397.3 19.4 Z" fill="#58C6E2"/>
<path d="M319.5 196.0 L321.4 197.4 L322.8 200.6 L320.5 205.7 L319.1 203.4 L320.0 199.7 Z" fill="#58C6E2"/>
<path d="M296.1 208.9 L298.8 207.1 L297.9 210.8 L294.7 212.1 Z" fill="#58C6E2"/>
<path d="M289.2 225.0 L288.7 228.7 L287.3 228.2 L287.8 225.0 Z" fill="#58C6E2"/>
<path d="M278.6 295.4 L286.0 292.2 L285.5 294.0 L279.5 297.2 Z" fill="#58C6E2"/>
<path d="M153.9 179.0 L155.8 183.6 L154.9 187.3 L151.6 183.6 L150.3 178.1 Z" fill="#58C6E2"/>
<path d="M303.0 113.2 L304.4 111.4 L305.7 107.3 L305.0 106.8 L303.7 110.5 L302.5 112.3 Z" fill="#58C6E2"/>
<path d="M331.2 137.1h1.3v1.3h-1.3zM326.9 141.3h1.3v1.3h-1.3zM323.5 140.2h1.3v1.3h-1.3zM321.7 139.6h1.3v1.3h-1.3zM322.0 139.2h1.3v1.3h-1.3zM302.5 143.2h1.3v1.3h-1.3zM299.3 146.4h1.3v1.3h-1.3zM299.0 145.2h1.3v1.3h-1.3zM294.2 146.6h1.3v1.3h-1.3zM311.6 145.0h1.3v1.3h-1.3zM274.5 150.3h1.3v1.3h-1.3zM269.8 147.1h1.3v1.3h-1.3zM272.5 150.5h1.3v1.3h-1.3zM280.0 148.5h1.3v1.3h-1.3zM288.2 147.0h1.3v1.3h-1.3zM288.9 146.9h1.3v1.3h-1.3zM254.5 145.2h1.3v1.3h-1.3zM265.0 144.0h1.3v1.3h-1.3zM254.4 146.9h1.3v1.3h-1.3zM253.7 144.7h1.3v1.3h-1.3zM246.0 146.7h1.3v1.3h-1.3zM255.2 148.5h1.3v1.3h-1.3zM242.2 145.4h1.3v1.3h-1.3zM241.0 142.1h1.3v1.3h-1.3zM225.1 145.3h1.3v1.3h-1.3zM238.4 147.1h1.3v1.3h-1.3zM240.4 143.7h1.3v1.3h-1.3zM238.3 147.5h1.3v1.3h-1.3zM218.1 142.0h1.3v1.3h-1.3zM216.1 147.1h1.3v1.3h-1.3zM219.9 149.8h1.3v1.3h-1.3zM203.6 145.5h1.3v1.3h-1.3zM190.9 145.9h1.3v1.3h-1.3zM197.8 145.1h1.3v1.3h-1.3zM197.8 145.9h1.3v1.3h-1.3zM188.3 142.2h1.3v1.3h-1.3zM191.5 144.8h1.3v1.3h-1.3zM180.4 141.5h1.3v1.3h-1.3zM175.5 140.4h1.3v1.3h-1.3zM166.5 140.0h1.3v1.3h-1.3zM163.7 140.1h1.3v1.3h-1.3zM169.2 139.3h1.3v1.3h-1.3zM165.0 141.0h1.3v1.3h-1.3zM156.0 139.4h1.3v1.3h-1.3zM146.3 138.6h1.3v1.3h-1.3zM151.6 138.0h1.3v1.3h-1.3zM131.4 136.1h1.3v1.3h-1.3zM134.3 134.4h1.3v1.3h-1.3zM137.2 135.8h1.3v1.3h-1.3zM131.5 136.2h1.3v1.3h-1.3zM125.6 138.7h1.3v1.3h-1.3zM116.1 136.0h1.3v1.3h-1.3zM118.5 137.6h1.3v1.3h-1.3zM123.1 136.1h1.3v1.3h-1.3zM123.3 138.8h1.3v1.3h-1.3zM124.9 134.8h1.3v1.3h-1.3zM101.5 133.3h1.3v1.3h-1.3zM88.0 135.3h1.3v1.3h-1.3zM83.8 134.9h1.3v1.3h-1.3zM92.7 135.1h1.3v1.3h-1.3zM84.2 139.8h1.3v1.3h-1.3zM102.0 135.4h1.3v1.3h-1.3zM82.1 134.5h1.3v1.3h-1.3zM114.6 95.8h1.3v1.3h-1.3zM125.7 102.4h1.3v1.3h-1.3zM89.4 104.2h1.3v1.3h-1.3zM306.8 113.1h1.3v1.3h-1.3zM259.5 98.2h1.3v1.3h-1.3zM174.8 58.9h1.3v1.3h-1.3zM244.1 121.7h1.3v1.3h-1.3zM211.5 91.4h1.3v1.3h-1.3zM251.1 129.3h1.3v1.3h-1.3zM212.6 94.5h1.3v1.3h-1.3zM275.6 121.5h1.3v1.3h-1.3zM301.0 127.5h1.3v1.3h-1.3zM119.2 87.3h1.3v1.3h-1.3zM234.0 115.4h1.3v1.3h-1.3zM133.4 87.3h1.3v1.3h-1.3zM220.9 101.0h1.3v1.3h-1.3zM212.5 92.9h1.3v1.3h-1.3zM294.9 117.8h1.3v1.3h-1.3zM243.6 115.1h1.3v1.3h-1.3zM168.5 81.3h1.3v1.3h-1.3zM146.0 109.1h1.3v1.3h-1.3zM252.0 128.1h1.3v1.3h-1.3zM309.3 128.1h1.3v1.3h-1.3zM125.6 113.1h1.3v1.3h-1.3zM281.9 104.9h1.3v1.3h-1.3zM240.7 86.0h1.3v1.3h-1.3zM145.8 81.9h1.3v1.3h-1.3zM295.9 123.3h1.3v1.3h-1.3zM102.7 125.4h1.3v1.3h-1.3zM205.4 112.5h1.3v1.3h-1.3zM169.0 64.7h1.3v1.3h-1.3zM134.5 72.1h1.3v1.3h-1.3zM199.4 60.6h1.3v1.3h-1.3zM135.8 87.7h1.3v1.3h-1.3zM185.8 67.3h1.3v1.3h-1.3zM163.6 74.0h1.3v1.3h-1.3zM108.8 85.4h1.3v1.3h-1.3zM197.2 58.7h1.3v1.3h-1.3zM163.0 60.9h1.3v1.3h-1.3zM166.7 83.0h1.3v1.3h-1.3zM120.7 77.9h1.3v1.3h-1.3zM198.8 62.2h1.3v1.3h-1.3zM194.9 58.9h1.3v1.3h-1.3zM129.1 79.8h1.3v1.3h-1.3zM197.3 74.7h1.3v1.3h-1.3zM170.6 82.8h1.3v1.3h-1.3zM197.0 87.0h1.3v1.3h-1.3zM182.3 77.1h1.3v1.3h-1.3zM202.0 62.0h1.3v1.3h-1.3zM195.2 61.7h1.3v1.3h-1.3zM194.7 80.6h1.3v1.3h-1.3zM190.4 73.0h1.3v1.3h-1.3zM130.8 87.0h1.3v1.3h-1.3zM127.3 77.2h1.3v1.3h-1.3zM195.3 56.7h1.3v1.3h-1.3zM343.6 86.0h1.3v1.3h-1.3zM362.2 76.4h1.3v1.3h-1.3zM347.7 89.9h1.3v1.3h-1.3zM371.4 114.3h1.3v1.3h-1.3zM379.2 128.7h1.3v1.3h-1.3zM390.4 116.6h1.3v1.3h-1.3zM318.6 83.5h1.3v1.3h-1.3zM349.7 122.1h1.3v1.3h-1.3zM346.1 122.7h1.3v1.3h-1.3zM359.0 112.4h1.3v1.3h-1.3zM383.8 123.6h1.3v1.3h-1.3zM344.5 109.3h1.3v1.3h-1.3zM365.8 108.0h1.3v1.3h-1.3zM335.8 104.6h1.3v1.3h-1.3zM371.8 86.9h1.3v1.3h-1.3zM350.3 66.4h1.3v1.3h-1.3zM367.0 63.0h1.3v1.3h-1.3zM385.5 135.3h1.3v1.3h-1.3zM339.4 84.4h1.3v1.3h-1.3zM310.9 73.9h1.3v1.3h-1.3zM361.0 137.4h1.3v1.3h-1.3zM411.7 106.4h1.3v1.3h-1.3zM372.5 87.6h1.3v1.3h-1.3zM344.4 126.8h1.3v1.3h-1.3zM348.4 97.2h1.3v1.3h-1.3zM375.1 110.9h1.3v1.3h-1.3zM334.9 110.4h1.3v1.3h-1.3zM401.8 114.8h1.3v1.3h-1.3zM424.2 110.5h1.3v1.3h-1.3zM382.3 132.5h1.3v1.3h-1.3zM336.4 108.7h1.3v1.3h-1.3zM391.4 112.2h1.3v1.3h-1.3zM329.9 105.2h1.3v1.3h-1.3zM325.5 88.1h1.3v1.3h-1.3zM387.1 141.8h1.3v1.3h-1.3zM374.6 97.9h1.3v1.3h-1.3zM364.7 86.0h1.3v1.3h-1.3zM358.5 45.6h1.3v1.3h-1.3zM364.7 46.3h1.3v1.3h-1.3zM418.9 83.0h1.3v1.3h-1.3zM329.2 100.2h1.3v1.3h-1.3zM361.3 53.7h1.3v1.3h-1.3zM412.8 53.6h1.3v1.3h-1.3zM409.6 31.7h1.3v1.3h-1.3zM343.2 100.1h1.3v1.3h-1.3zM337.6 92.3h1.3v1.3h-1.3zM399.5 60.1h1.3v1.3h-1.3zM345.5 50.1h1.3v1.3h-1.3zM411.1 89.3h1.3v1.3h-1.3zM333.1 41.3h1.3v1.3h-1.3zM434.8 93.6h1.3v1.3h-1.3zM322.5 78.6h1.3v1.3h-1.3zM400.4 31.1h1.3v1.3h-1.3zM366.8 49.0h1.3v1.3h-1.3zM328.5 50.8h1.3v1.3h-1.3zM411.8 39.0h1.3v1.3h-1.3zM437.1 44.0h1.3v1.3h-1.3zM360.9 70.1h1.3v1.3h-1.3zM363.7 64.4h1.3v1.3h-1.3zM360.2 39.1h1.3v1.3h-1.3zM417.8 93.8h1.3v1.3h-1.3zM434.3 54.8h1.3v1.3h-1.3zM418.5 49.5h1.3v1.3h-1.3zM371.5 47.6h1.3v1.3h-1.3zM434.9 81.7h1.3v1.3h-1.3zM416.1 62.0h1.3v1.3h-1.3zM377.2 69.5h1.3v1.3h-1.3zM406.8 81.8h1.3v1.3h-1.3zM421.3 40.5h1.3v1.3h-1.3zM329.8 36.7h1.3v1.3h-1.3zM348.6 67.4h1.3v1.3h-1.3zM392.4 73.7h1.3v1.3h-1.3zM322.8 39.0h1.3v1.3h-1.3zM341.1 86.0h1.3v1.3h-1.3zM414.8 76.6h1.3v1.3h-1.3zM424.7 50.0h1.3v1.3h-1.3zM352.4 100.9h1.3v1.3h-1.3zM432.8 95.3h1.3v1.3h-1.3zM405.5 65.6h1.3v1.3h-1.3zM410.1 50.8h1.3v1.3h-1.3zM280.6 264.7h1.3v1.3h-1.3zM225.8 255.5h1.3v1.3h-1.3zM210.7 206.0h1.3v1.3h-1.3zM305.6 153.0h1.3v1.3h-1.3zM242.1 312.5h1.3v1.3h-1.3zM162.7 153.5h1.3v1.3h-1.3zM251.2 217.2h1.3v1.3h-1.3zM115.7 177.9h1.3v1.3h-1.3zM231.4 176.9h1.3v1.3h-1.3zM257.8 269.6h1.3v1.3h-1.3zM91.9 161.2h1.3v1.3h-1.3zM227.2 188.5h1.3v1.3h-1.3zM275.4 365.3h1.3v1.3h-1.3zM172.0 149.0h1.3v1.3h-1.3zM268.0 195.7h1.3v1.3h-1.3zM218.6 275.8h1.3v1.3h-1.3zM269.1 207.4h1.3v1.3h-1.3zM218.6 241.0h1.3v1.3h-1.3zM300.0 215.9h1.3v1.3h-1.3zM219.7 219.5h1.3v1.3h-1.3zM368.8 196.4h1.3v1.3h-1.3zM274.0 225.5h1.3v1.3h-1.3zM248.4 228.6h1.3v1.3h-1.3zM363.9 187.5h1.3v1.3h-1.3zM256.3 311.2h1.3v1.3h-1.3zM297.7 160.8h1.3v1.3h-1.3zM234.4 264.0h1.3v1.3h-1.3zM212.7 303.5h1.3v1.3h-1.3zM380.9 185.3h1.3v1.3h-1.3zM258.2 158.9h1.3v1.3h-1.3zM141.8 54.7h1.3v1.3h-1.3zM179.8 46.9h1.3v1.3h-1.3zM202.1 46.4h1.3v1.3h-1.3zM273.4 71.7h1.3v1.3h-1.3zM305.8 72.6h1.3v1.3h-1.3zM315.5 62.0h1.3v1.3h-1.3zM317.8 51.7h1.3v1.3h-1.3zM318.5 49.2h1.3v1.3h-1.3zM310.4 48.5h1.3v1.3h-1.3zM291.1 49.6h1.3v1.3h-1.3zM273.2 33.5h1.3v1.3h-1.3zM376.0 77.2h1.3v1.3h-1.3zM385.2 100.9h1.3v1.3h-1.3zM390.2 102.1h1.3v1.3h-1.3zM397.8 105.5h1.3v1.3h-1.3zM420.6 107.6h1.3v1.3h-1.3zM395.1 142.5h1.3v1.3h-1.3zM342.4 129.0h1.3v1.3h-1.3zM337.8 122.8h1.3v1.3h-1.3zM318.7 93.1h1.3v1.3h-1.3zM308.8 87.6h1.3v1.3h-1.3zM304.4 85.7h1.3v1.3h-1.3zM315.3 104.6h1.3v1.3h-1.3zM317.1 109.2h1.3v1.3h-1.3zM323.8 122.8h1.3v1.3h-1.3zM326.8 131.3h1.3v1.3h-1.3zM336.6 146.7h1.3v1.3h-1.3zM349.5 158.6h1.3v1.3h-1.3zM369.8 166.5h1.3v1.3h-1.3zM386.3 162.8h1.3v1.3h-1.3zM353.0 213.2h1.3v1.3h-1.3zM315.7 317.3h1.3v1.3h-1.3zM307.7 332.1h1.3v1.3h-1.3zM304.2 334.6h1.3v1.3h-1.3zM257.8 373.2h1.3v1.3h-1.3zM248.1 375.8h1.3v1.3h-1.3zM227.2 345.6h1.3v1.3h-1.3zM206.9 294.3h1.3v1.3h-1.3zM207.8 287.9h1.3v1.3h-1.3zM210.2 280.5h1.3v1.3h-1.3zM213.8 258.7h1.3v1.3h-1.3zM213.1 253.4h1.3v1.3h-1.3zM201.4 232.2h1.3v1.3h-1.3zM196.3 213.8h1.3v1.3h-1.3zM198.2 204.2h1.3v1.3h-1.3zM176.6 190.8h1.3v1.3h-1.3zM165.3 187.4h1.3v1.3h-1.3zM146.0 193.8h1.3v1.3h-1.3zM120.7 195.9h1.3v1.3h-1.3zM94.0 180.5h1.3v1.3h-1.3zM92.2 177.0h1.3v1.3h-1.3zM75.8 157.7h1.3v1.3h-1.3zM73.3 149.7h1.3v1.3h-1.3zM73.5 147.8h1.3v1.3h-1.3zM77.7 140.5h1.3v1.3h-1.3zM77.9 129.0h1.3v1.3h-1.3zM76.1 124.4h1.3v1.3h-1.3zM77.7 111.5h1.3v1.3h-1.3zM83.4 101.8h1.3v1.3h-1.3zM88.7 94.0h1.3v1.3h-1.3zM92.2 90.3h1.3v1.3h-1.3zM103.0 84.3h1.3v1.3h-1.3zM108.3 74.5h1.3v1.3h-1.3zM109.0 69.6h1.3v1.3h-1.3zM115.9 62.7h1.3v1.3h-1.3zM122.8 57.9h1.3v1.3h-1.3z" fill="#000" fill-opacity="0.85"/>
<path d="M291.5 73.2 L297.0 71.8 L302.5 73.2 L298.4 78.3 L296.1 77.8 Z" fill="#FFC070" opacity="0.8"/>
</g>
<pattern id="pgb" patternUnits="userSpaceOnUse" width="24" height="24"><rect width="24" height="24" fill="#0A9246"/><rect x="20.5" y="10.3" width="1.8" height="2.0" fill="#00B552"/><rect x="4.1" y="11.3" width="1.9" height="2.0" fill="#00B552"/><rect x="2.1" y="6.6" width="2.1" height="2.3" fill="#00B552"/><rect x="15.7" y="0.9" width="1.3" height="2.3" fill="#00B552"/><rect x="14.0" y="13.2" width="2.6" height="2.6" fill="#00B552"/><rect x="11.9" y="1.4" width="1.4" height="1.2" fill="#00B552"/><rect x="0.7" y="10.4" width="1.5" height="1.5" fill="#00B552"/><rect x="11.5" y="13.8" width="1.8" height="2.4" fill="#00B552"/><rect x="10.1" y="6.1" width="1.9" height="2.1" fill="#00B552"/><rect x="18.0" y="15.2" width="2.6" height="2.6" fill="#00B552"/><rect x="6.5" y="1.6" width="1.6" height="1.5" fill="#00B552"/><rect x="18.4" y="8.6" width="2.3" height="1.8" fill="#00B552"/><rect x="0.0" y="4.5" width="2.5" height="2.4" fill="#00B552"/><rect x="21.1" y="8.8" width="2.5" height="1.9" fill="#00B552"/><rect x="17.7" y="5.9" width="1.3" height="2.1" fill="#00B552"/><rect x="21.9" y="16.9" width="1.3" height="1.7" fill="#00B552"/><rect x="2.3" y="1.3" width="1.4" height="1.5" fill="#00B552"/><rect x="12.1" y="10.1" width="2.3" height="1.4" fill="#00B552"/><rect x="3.0" y="14.0" width="1.5" height="2.2" fill="#00B552"/><rect x="4.8" y="6.0" width="1.4" height="1.8" fill="#00B552"/><rect x="6.5" y="19.2" width="2.6" height="2.3" fill="#00B552"/><rect x="19.2" y="14.3" width="1.5" height="1.8" fill="#00B552"/><rect x="4.8" y="5.5" width="1.3" height="2.6" fill="#00B552"/><rect x="6.4" y="1.6" width="2.3" height="1.7" fill="#00B552"/><rect x="5.5" y="13.2" width="1.3" height="2.0" fill="#00B552"/><rect x="21.4" y="10.7" width="1.7" height="1.8" fill="#00B552"/><rect x="4.0" y="3.3" width="2.0" height="2.4" fill="#00B552"/><rect x="5.4" y="4.1" width="2.5" height="2.3" fill="#00B552"/><rect x="4.3" y="20.4" width="2.2" height="2.5" fill="#00B552"/><rect x="9.1" y="2.3" width="2.4" height="2.0" fill="#00B552"/><rect x="5.4" y="15.1" width="1.3" height="2.5" fill="#00B552"/><rect x="13.4" y="6.4" width="1.6" height="2.4" fill="#00B552"/><rect x="1.6" y="5.0" width="1.4" height="2.2" fill="#00B552"/><rect x="13.5" y="6.1" width="2.0" height="2.4" fill="#00B552"/><rect x="0.4" y="6.1" width="2.5" height="1.5" fill="#00B552"/><rect x="3.9" y="8.4" width="1.8" height="1.3" fill="#00B552"/><rect x="8.0" y="20.1" width="2.0" height="1.4" fill="#00B552"/><rect x="14.8" y="12.8" width="2.6" height="2.1" fill="#00B552"/><rect x="0.4" y="20.7" width="1.4" height="1.2" fill="#00B552"/><rect x="0.5" y="13.6" width="2.2" height="2.5" fill="#00B552"/><rect x="7.2" y="22.4" width="1.4" height="1.6" fill="#8DD35C"/><rect x="16.9" y="20.3" width="1.1" height="1.4" fill="#8DD35C"/><rect x="17.8" y="20.5" width="1.6" height="1.6" fill="#8DD35C"/><rect x="20.5" y="19.6" width="1.3" height="1.5" fill="#8DD35C"/><rect x="19.6" y="12.8" width="1.3" height="1.6" fill="#8DD35C"/><rect x="13.1" y="13.8" width="1.5" height="1.3" fill="#8DD35C"/><rect x="22.8" y="19.8" width="1.1" height="1.5" fill="#8DD35C"/><rect x="16.5" y="13.2" width="1.6" height="1.3" fill="#8DD35C"/><rect x="1.9" y="16.6" width="1.4" height="1.8" fill="#0A7A3A"/><rect x="11.0" y="5.2" width="1.0" height="1.6" fill="#0A7A3A"/><rect x="13.7" y="20.7" width="1.7" height="1.5" fill="#0A7A3A"/><rect x="6.8" y="15.6" width="1.3" height="1.0" fill="#0A7A3A"/><rect x="20.6" y="15.1" width="1.2" height="1.2" fill="#0A7A3A"/><rect x="7.4" y="14.7" width="1.4" height="1.9" fill="#0A7A3A"/><rect x="18.4" y="20.6" width="1.2" height="1.4" fill="#0A7A3A"/><rect x="12.9" y="7.2" width="1.9" height="1.4" fill="#0A7A3A"/><rect x="19.1" y="19.1" width="1.1" height="1.5" fill="#0A7A3A"/><rect x="6.2" y="3.7" width="1.7" height="2.0" fill="#0A7A3A"/></pattern>
<pattern id="pgc" patternUnits="userSpaceOnUse" width="24" height="24"><rect width="24" height="24" fill="#72C659"/><rect x="14.7" y="3.1" width="2.0" height="2.3" fill="#00B552"/><rect x="6.2" y="18.0" width="1.2" height="1.8" fill="#00B552"/><rect x="12.1" y="14.4" width="2.3" height="2.2" fill="#00B552"/><rect x="3.7" y="20.0" width="1.4" height="1.9" fill="#00B552"/><rect x="1.7" y="14.8" width="1.3" height="2.5" fill="#00B552"/><rect x="18.8" y="0.4" width="1.7" height="1.8" fill="#00B552"/><rect x="11.6" y="1.9" width="1.3" height="2.7" fill="#00B552"/><rect x="2.4" y="9.0" width="2.8" height="2.7" fill="#00B552"/><rect x="14.0" y="3.6" width="1.4" height="1.7" fill="#00B552"/><rect x="3.7" y="18.5" width="2.3" height="1.3" fill="#00B552"/><rect x="13.2" y="10.6" width="1.8" height="1.9" fill="#00B552"/><rect x="16.1" y="22.0" width="1.8" height="1.2" fill="#00B552"/><rect x="7.6" y="7.9" width="2.8" height="2.3" fill="#00B552"/><rect x="2.5" y="5.1" width="2.3" height="2.3" fill="#00B552"/><rect x="18.0" y="11.0" width="1.8" height="2.0" fill="#00B552"/><rect x="9.8" y="11.2" width="1.2" height="2.5" fill="#00B552"/><rect x="8.7" y="17.1" width="1.6" height="1.9" fill="#00B552"/><rect x="4.0" y="15.3" width="1.4" height="2.1" fill="#00B552"/><rect x="7.8" y="14.2" width="1.3" height="1.6" fill="#00B552"/><rect x="4.7" y="6.2" width="1.3" height="1.9" fill="#00B552"/><rect x="10.6" y="20.3" width="2.0" height="2.7" fill="#00B552"/><rect x="8.2" y="4.0" width="1.5" height="2.7" fill="#00B552"/><rect x="0.1" y="5.7" width="2.4" height="2.7" fill="#00B552"/><rect x="5.2" y="0.2" width="2.4" height="1.7" fill="#00B552"/><rect x="22.4" y="21.8" width="1.3" height="2.2" fill="#00B552"/><rect x="7.1" y="17.9" width="2.0" height="1.2" fill="#00B552"/><rect x="4.9" y="11.5" width="2.5" height="2.2" fill="#00B552"/><rect x="5.8" y="20.6" width="2.0" height="2.2" fill="#00B552"/><rect x="6.2" y="19.7" width="2.6" height="1.5" fill="#00B552"/><rect x="11.5" y="14.8" width="1.6" height="2.7" fill="#00B552"/><rect x="6.2" y="5.7" width="2.3" height="1.5" fill="#00B552"/><rect x="2.9" y="19.2" width="2.3" height="2.3" fill="#00B552"/><rect x="9.6" y="22.0" width="1.9" height="1.6" fill="#00B552"/><rect x="20.2" y="21.0" width="2.1" height="2.2" fill="#00B552"/><rect x="12.7" y="19.9" width="2.4" height="1.9" fill="#00B552"/><rect x="7.5" y="8.1" width="2.5" height="2.1" fill="#00B552"/><rect x="0.4" y="15.6" width="2.4" height="2.1" fill="#00B552"/><rect x="19.2" y="19.6" width="2.6" height="2.5" fill="#00B552"/><rect x="8.3" y="2.1" width="2.1" height="2.5" fill="#00B552"/><rect x="20.8" y="15.4" width="1.8" height="1.7" fill="#00B552"/><rect x="2.7" y="11.6" width="2.1" height="2.2" fill="#00B552"/><rect x="5.3" y="9.0" width="2.3" height="1.8" fill="#00B552"/><rect x="3.2" y="2.0" width="1.7" height="2.3" fill="#00B552"/><rect x="16.9" y="14.3" width="1.7" height="2.3" fill="#00B552"/><rect x="0.6" y="10.8" width="2.7" height="1.8" fill="#00B552"/><rect x="15.0" y="7.8" width="1.5" height="1.2" fill="#0A8E45"/><rect x="21.4" y="0.2" width="1.3" height="1.4" fill="#0A8E45"/><rect x="4.5" y="9.8" width="1.4" height="1.3" fill="#0A8E45"/><rect x="11.4" y="15.3" width="1.3" height="2.1" fill="#0A8E45"/><rect x="13.8" y="18.9" width="1.2" height="1.6" fill="#0A8E45"/><rect x="19.4" y="18.7" width="1.3" height="1.6" fill="#0A8E45"/><rect x="17.3" y="8.8" width="1.3" height="1.6" fill="#0A8E45"/><rect x="21.6" y="12.3" width="1.8" height="1.8" fill="#0A8E45"/><rect x="16.2" y="7.3" width="1.8" height="1.4" fill="#0A8E45"/><rect x="6.9" y="3.1" width="1.6" height="1.4" fill="#0A8E45"/><rect x="5.7" y="1.0" width="1.3" height="1.7" fill="#0A8E45"/><rect x="20.6" y="13.6" width="2.0" height="1.3" fill="#0A8E45"/><rect x="20.2" y="7.0" width="1.5" height="2.0" fill="#0A8E45"/><rect x="19.3" y="13.5" width="1.2" height="1.8" fill="#0A8E45"/><rect x="13.4" y="5.8" width="2.3" height="1.8" fill="#A8DC78"/><rect x="8.6" y="8.9" width="1.8" height="1.7" fill="#A8DC78"/><rect x="4.4" y="5.7" width="2.3" height="1.4" fill="#A8DC78"/><rect x="1.1" y="18.4" width="2.6" height="1.9" fill="#A8DC78"/><rect x="7.7" y="15.9" width="2.4" height="2.3" fill="#A8DC78"/><rect x="19.4" y="18.8" width="1.6" height="1.4" fill="#A8DC78"/><rect x="0.6" y="6.7" width="1.5" height="2.4" fill="#A8DC78"/><rect x="3.7" y="16.1" width="1.2" height="1.4" fill="#A8DC78"/><rect x="4.1" y="7.0" width="1.6" height="1.5" fill="#A8DC78"/><rect x="2.2" y="15.0" width="2.4" height="2.0" fill="#A8DC78"/><rect x="11.6" y="14.4" width="2.0" height="1.8" fill="#A8DC78"/><rect x="13.8" y="10.3" width="2.3" height="1.9" fill="#A8DC78"/><rect x="9.1" y="11.5" width="2.1" height="1.7" fill="#A8DC78"/><rect x="20.2" y="11.0" width="2.2" height="1.6" fill="#A8DC78"/><rect x="20.7" y="14.9" width="2.4" height="2.2" fill="#A8DC78"/><rect x="13.5" y="16.8" width="1.8" height="1.8" fill="#A8DC78"/><rect x="1.3" y="2.4" width="2.4" height="1.4" fill="#A8DC78"/><rect x="0.2" y="5.7" width="1.3" height="1.3" fill="#A8DC78"/><rect x="13.9" y="21.1" width="1.4" height="2.2" fill="#A8DC78"/><rect x="20.4" y="0.6" width="2.5" height="2.2" fill="#A8DC78"/><rect x="10.7" y="4.4" width="1.5" height="2.5" fill="#A8DC78"/><rect x="11.8" y="7.0" width="2.3" height="1.8" fill="#A8DC78"/><rect x="13.6" y="21.6" width="1.5" height="1.3" fill="#A8DC78"/><rect x="20.0" y="7.9" width="2.6" height="2.3" fill="#A8DC78"/><rect x="13.4" y="14.4" width="1.6" height="2.5" fill="#A8DC78"/><rect x="11.1" y="16.6" width="1.0" height="1.2" fill="#D3EA8E"/><rect x="7.5" y="8.5" width="1.8" height="1.8" fill="#D3EA8E"/><rect x="10.7" y="4.3" width="1.9" height="2.0" fill="#D3EA8E"/><rect x="8.1" y="5.2" width="1.6" height="1.5" fill="#D3EA8E"/><rect x="2.9" y="12.1" width="1.4" height="1.6" fill="#D3EA8E"/><rect x="5.6" y="9.3" width="2.0" height="1.7" fill="#D3EA8E"/><rect x="14.5" y="3.8" width="1.1" height="1.7" fill="#D3EA8E"/><rect x="13.0" y="8.5" width="1.5" height="1.6" fill="#D3EA8E"/><rect x="22.6" y="7.5" width="1.3" height="1.4" fill="#D3EA8E"/><rect x="3.9" y="9.0" width="1.5" height="1.5" fill="#D3EA8E"/><rect x="8.4" y="7.9" width="1.2" height="1.3" fill="#D3EA8E"/><rect x="7.3" y="14.9" width="1.9" height="1.3" fill="#D3EA8E"/><rect x="14.6" y="1.7" width="1.4" height="1.5" fill="#F3F1C0"/><rect x="5.6" y="18.5" width="1.7" height="1.1" fill="#F3F1C0"/><rect x="3.8" y="9.8" width="2.0" height="1.7" fill="#F3F1C0"/><rect x="5.3" y="4.3" width="1.3" height="1.8" fill="#F3F1C0"/><rect x="13.2" y="10.7" width="1.6" height="1.6" fill="#F3F1C0"/></pattern>
<pattern id="pgs" patternUnits="userSpaceOnUse" width="24" height="24"><rect x="7.5" y="4.3" width="1.5" height="2.1" fill="#0A9246"/><rect x="10.6" y="10.1" width="1.9" height="1.9" fill="#0A9246"/><rect x="15.5" y="7.3" width="1.6" height="1.6" fill="#0A9246"/><rect x="18.9" y="20.5" width="2.1" height="2.3" fill="#0A9246"/><rect x="16.5" y="12.9" width="1.5" height="1.5" fill="#0A9246"/><rect x="19.7" y="18.3" width="1.5" height="2.1" fill="#0A9246"/><rect x="0.1" y="21.8" width="1.5" height="1.6" fill="#0A9246"/><rect x="12.1" y="12.9" width="1.5" height="2.2" fill="#0A9246"/><rect x="13.2" y="6.6" width="1.9" height="2.4" fill="#0A9246"/><rect x="20.9" y="3.2" width="1.4" height="1.9" fill="#0A9246"/><rect x="3.5" y="4.5" width="2.2" height="2.1" fill="#0A9246"/><rect x="8.9" y="10.7" width="2.2" height="1.8" fill="#0A9246"/><rect x="13.3" y="11.7" width="1.3" height="2.2" fill="#0A9246"/><rect x="18.4" y="11.8" width="1.7" height="2.3" fill="#0A9246"/><rect x="3.5" y="1.8" width="1.3" height="1.4" fill="#0A9246"/><rect x="4.5" y="20.1" width="2.1" height="2.0" fill="#0A9246"/><rect x="17.9" y="14.8" width="2.1" height="2.3" fill="#0A9246"/><rect x="2.9" y="14.8" width="1.9" height="2.6" fill="#0A9246"/><rect x="17.6" y="4.0" width="2.4" height="1.9" fill="#0A9246"/><rect x="8.8" y="15.7" width="1.8" height="1.6" fill="#0A9246"/><rect x="19.1" y="6.7" width="1.4" height="1.7" fill="#0A9246"/><rect x="12.2" y="0.4" width="1.4" height="2.6" fill="#0A9246"/><rect x="3.6" y="16.7" width="2.0" height="1.4" fill="#0A9246"/><rect x="11.3" y="12.4" width="2.1" height="1.8" fill="#0A9246"/><rect x="17.0" y="17.5" width="1.8" height="1.3" fill="#0A9246"/><rect x="13.6" y="10.5" width="1.8" height="1.8" fill="#0A9246"/><rect x="20.1" y="3.3" width="1.8" height="2.4" fill="#0A9246"/><rect x="21.6" y="15.8" width="1.4" height="2.3" fill="#0A9246"/><rect x="18.5" y="21.1" width="1.6" height="1.3" fill="#0A9246"/><rect x="21.1" y="11.4" width="2.3" height="2.2" fill="#0A9246"/><rect x="1.6" y="18.8" width="2.5" height="1.6" fill="#0A9246"/><rect x="2.8" y="6.5" width="2.2" height="2.3" fill="#0A9246"/><rect x="7.2" y="13.7" width="2.0" height="1.3" fill="#0A9246"/><rect x="8.5" y="8.9" width="2.5" height="2.2" fill="#0A9246"/><rect x="22.0" y="0.2" width="1.9" height="2.2" fill="#0A9246"/><rect x="1.0" y="5.6" width="2.5" height="2.3" fill="#0A9246"/><rect x="3.6" y="3.1" width="1.6" height="1.5" fill="#0A9246"/><rect x="2.3" y="18.7" width="2.1" height="1.8" fill="#0A9246"/><rect x="17.9" y="17.4" width="2.4" height="1.6" fill="#0A9246"/><rect x="15.6" y="19.8" width="1.9" height="1.3" fill="#0A9246"/><rect x="3.5" y="21.0" width="2.4" height="2.5" fill="#00B552"/><rect x="12.2" y="14.2" width="1.3" height="1.7" fill="#00B552"/><rect x="17.1" y="18.5" width="1.9" height="2.5" fill="#00B552"/><rect x="0.5" y="14.3" width="2.1" height="1.8" fill="#00B552"/><rect x="21.4" y="0.4" width="2.5" height="1.5" fill="#00B552"/><rect x="15.9" y="12.6" width="1.8" height="2.3" fill="#00B552"/><rect x="3.1" y="14.5" width="1.6" height="1.5" fill="#00B552"/><rect x="16.3" y="10.1" width="1.2" height="1.4" fill="#00B552"/><rect x="21.1" y="11.4" width="1.2" height="1.8" fill="#00B552"/><rect x="11.2" y="5.5" width="1.6" height="1.4" fill="#00B552"/><rect x="13.6" y="18.0" width="1.6" height="1.3" fill="#00B552"/><rect x="6.5" y="21.8" width="1.9" height="2.1" fill="#00B552"/><rect x="0.3" y="14.2" width="1.6" height="2.5" fill="#00B552"/><rect x="4.7" y="3.7" width="2.4" height="2.0" fill="#00B552"/><rect x="5.1" y="8.8" width="2.6" height="2.6" fill="#00B552"/><rect x="0.6" y="11.8" width="2.4" height="2.4" fill="#00B552"/><rect x="15.6" y="11.0" width="1.5" height="1.3" fill="#00B552"/><rect x="7.3" y="5.7" width="1.5" height="2.3" fill="#00B552"/><rect x="18.9" y="7.4" width="1.6" height="1.5" fill="#00B552"/><rect x="11.6" y="19.5" width="2.5" height="2.2" fill="#00B552"/><rect x="14.6" y="1.4" width="1.7" height="1.2" fill="#00B552"/><rect x="8.4" y="1.9" width="2.5" height="2.6" fill="#00B552"/><rect x="20.7" y="10.7" width="2.5" height="1.6" fill="#00B552"/><rect x="3.3" y="7.2" width="2.4" height="2.4" fill="#00B552"/><rect x="20.6" y="4.7" width="1.8" height="1.5" fill="#00B552"/><rect x="3.4" y="18.3" width="1.5" height="1.5" fill="#00B552"/><rect x="2.8" y="17.8" width="1.5" height="2.0" fill="#00B552"/><rect x="1.2" y="14.4" width="2.3" height="2.5" fill="#00B552"/><rect x="15.0" y="7.2" width="2.2" height="1.7" fill="#00B552"/><rect x="18.2" y="7.2" width="2.0" height="2.4" fill="#00B552"/><rect x="5.2" y="10.1" width="1.6" height="2.5" fill="#00B552"/><rect x="11.9" y="2.6" width="1.8" height="1.7" fill="#00B552"/><rect x="18.8" y="10.7" width="1.9" height="2.1" fill="#00B552"/><rect x="4.3" y="3.3" width="1.5" height="1.6" fill="#00B552"/><rect x="21.1" y="16.8" width="1.6" height="1.7" fill="#00B552"/><rect x="4.2" y="12.6" width="2.5" height="1.9" fill="#00B552"/><rect x="5.0" y="16.3" width="2.2" height="2.6" fill="#00B552"/><rect x="11.2" y="2.4" width="2.5" height="1.8" fill="#00B552"/><rect x="17.1" y="17.2" width="2.1" height="1.3" fill="#00B552"/><rect x="1.5" y="18.9" width="2.4" height="2.4" fill="#00B552"/><rect x="20.2" y="10.7" width="1.6" height="1.8" fill="#8DD35C"/><rect x="21.6" y="15.4" width="1.7" height="1.2" fill="#8DD35C"/><rect x="12.8" y="5.5" width="1.6" height="1.4" fill="#8DD35C"/><rect x="5.0" y="17.0" width="1.6" height="1.4" fill="#8DD35C"/><rect x="18.2" y="9.6" width="1.5" height="1.3" fill="#8DD35C"/><rect x="8.2" y="8.0" width="1.5" height="1.4" fill="#8DD35C"/><rect x="3.9" y="7.2" width="1.5" height="1.1" fill="#8DD35C"/><rect x="17.2" y="7.5" width="1.6" height="1.2" fill="#8DD35C"/><rect x="19.0" y="18.9" width="1.8" height="1.1" fill="#8DD35C"/><rect x="6.6" y="21.5" width="1.7" height="1.5" fill="#8DD35C"/></pattern>
<pattern id="pgs2" patternUnits="userSpaceOnUse" width="24" height="24"><rect x="11.4" y="11.1" width="2.1" height="2.3" fill="#00B552"/><rect x="6.4" y="3.2" width="1.8" height="2.6" fill="#00B552"/><rect x="7.3" y="6.0" width="1.6" height="1.6" fill="#00B552"/><rect x="7.0" y="12.7" width="1.4" height="1.7" fill="#00B552"/><rect x="4.6" y="12.3" width="1.5" height="1.3" fill="#00B552"/><rect x="17.9" y="9.0" width="1.7" height="2.2" fill="#00B552"/><rect x="17.1" y="8.6" width="1.3" height="2.2" fill="#00B552"/><rect x="20.0" y="18.7" width="2.1" height="1.6" fill="#00B552"/><rect x="5.1" y="11.7" width="2.3" height="2.5" fill="#00B552"/><rect x="8.5" y="3.0" width="2.2" height="2.3" fill="#00B552"/><rect x="15.5" y="0.2" width="2.1" height="1.3" fill="#00B552"/><rect x="2.7" y="10.6" width="1.8" height="1.9" fill="#00B552"/><rect x="19.8" y="19.3" width="1.9" height="1.7" fill="#00B552"/><rect x="0.6" y="8.5" width="2.4" height="1.5" fill="#00B552"/><rect x="6.0" y="2.8" width="1.4" height="2.2" fill="#00B552"/><rect x="16.5" y="10.3" width="1.6" height="1.8" fill="#00B552"/><rect x="1.0" y="4.6" width="1.6" height="2.1" fill="#00B552"/><rect x="2.2" y="1.4" width="2.2" height="2.3" fill="#00B552"/><rect x="0.4" y="9.6" width="1.9" height="2.1" fill="#00B552"/><rect x="3.8" y="6.5" width="1.6" height="1.3" fill="#00B552"/><rect x="13.7" y="19.9" width="1.9" height="1.4" fill="#00B552"/><rect x="14.2" y="14.4" width="2.2" height="1.3" fill="#00B552"/><rect x="14.9" y="21.2" width="1.2" height="1.7" fill="#00B552"/><rect x="12.7" y="21.1" width="2.5" height="2.0" fill="#00B552"/><rect x="1.4" y="17.1" width="1.5" height="1.9" fill="#00B552"/><rect x="4.3" y="11.8" width="2.1" height="1.5" fill="#00B552"/><rect x="7.0" y="11.6" width="2.3" height="1.4" fill="#00B552"/><rect x="16.3" y="20.6" width="1.6" height="2.4" fill="#00B552"/><rect x="6.3" y="11.0" width="2.1" height="2.2" fill="#00B552"/><rect x="1.4" y="18.8" width="1.8" height="1.9" fill="#00B552"/><rect x="21.0" y="11.4" width="1.4" height="1.8" fill="#00B552"/><rect x="10.1" y="8.5" width="2.4" height="1.6" fill="#00B552"/><rect x="9.9" y="18.8" width="1.7" height="1.7" fill="#00B552"/><rect x="14.3" y="12.0" width="2.6" height="1.3" fill="#00B552"/><rect x="8.0" y="7.2" width="1.8" height="1.3" fill="#00B552"/><rect x="8.2" y="6.5" width="1.7" height="2.0" fill="#00B552"/><rect x="8.8" y="20.9" width="1.6" height="2.6" fill="#00B552"/><rect x="12.5" y="15.5" width="1.4" height="2.1" fill="#00B552"/><rect x="13.0" y="1.0" width="1.9" height="2.4" fill="#00B552"/><rect x="5.4" y="16.0" width="2.2" height="2.1" fill="#00B552"/><rect x="3.2" y="6.5" width="2.4" height="1.6" fill="#8DD35C"/><rect x="1.6" y="10.0" width="2.0" height="1.8" fill="#8DD35C"/><rect x="7.8" y="17.3" width="2.0" height="2.0" fill="#8DD35C"/><rect x="7.6" y="20.8" width="2.1" height="1.6" fill="#8DD35C"/><rect x="6.8" y="12.9" width="1.5" height="1.8" fill="#8DD35C"/><rect x="4.1" y="1.4" width="2.3" height="1.4" fill="#8DD35C"/><rect x="11.1" y="20.9" width="1.4" height="1.9" fill="#8DD35C"/><rect x="0.6" y="5.0" width="1.8" height="1.9" fill="#8DD35C"/><rect x="17.6" y="9.4" width="1.6" height="1.5" fill="#8DD35C"/><rect x="3.5" y="4.1" width="1.4" height="1.9" fill="#8DD35C"/><rect x="16.6" y="10.0" width="2.1" height="1.3" fill="#8DD35C"/><rect x="21.8" y="16.1" width="1.3" height="2.1" fill="#8DD35C"/><rect x="5.9" y="10.4" width="2.4" height="2.5" fill="#8DD35C"/><rect x="21.0" y="9.4" width="2.2" height="1.8" fill="#8DD35C"/><rect x="9.7" y="0.4" width="1.2" height="1.3" fill="#8DD35C"/><rect x="20.5" y="21.1" width="2.1" height="2.6" fill="#8DD35C"/><rect x="1.6" y="21.0" width="1.5" height="1.5" fill="#8DD35C"/><rect x="15.2" y="21.5" width="1.2" height="1.3" fill="#8DD35C"/><rect x="0.8" y="18.6" width="1.9" height="1.3" fill="#8DD35C"/><rect x="21.5" y="6.3" width="2.2" height="1.6" fill="#8DD35C"/><rect x="1.3" y="7.8" width="1.4" height="2.6" fill="#8DD35C"/><rect x="11.0" y="5.5" width="1.5" height="2.1" fill="#8DD35C"/><rect x="21.6" y="17.7" width="2.1" height="1.3" fill="#8DD35C"/><rect x="6.1" y="12.6" width="1.5" height="2.0" fill="#8DD35C"/><rect x="11.0" y="1.6" width="1.6" height="1.5" fill="#8DD35C"/><rect x="4.9" y="13.0" width="2.6" height="2.3" fill="#8DD35C"/><rect x="8.6" y="16.2" width="1.4" height="1.4" fill="#8DD35C"/><rect x="5.7" y="3.5" width="1.3" height="2.5" fill="#8DD35C"/><rect x="9.2" y="11.6" width="1.9" height="2.5" fill="#8DD35C"/><rect x="7.4" y="4.2" width="2.6" height="1.9" fill="#8DD35C"/><rect x="13.1" y="4.2" width="1.9" height="2.1" fill="#8DD35C"/><rect x="15.7" y="18.1" width="1.2" height="2.6" fill="#8DD35C"/><rect x="4.0" y="21.4" width="2.4" height="1.8" fill="#8DD35C"/><rect x="13.6" y="11.4" width="2.5" height="1.3" fill="#8DD35C"/><rect x="14.8" y="9.8" width="1.2" height="2.0" fill="#8DD35C"/><rect x="15.1" y="6.0" width="1.6" height="2.4" fill="#8DD35C"/><rect x="8.4" y="12.3" width="2.3" height="2.5" fill="#8DD35C"/><rect x="19.3" y="21.6" width="1.3" height="1.4" fill="#8DD35C"/><rect x="15.1" y="8.9" width="2.5" height="1.4" fill="#8DD35C"/><rect x="2.1" y="1.8" width="1.5" height="2.5" fill="#8DD35C"/><rect x="9.0" y="14.4" width="1.3" height="1.1" fill="#D3EA8E"/><rect x="10.9" y="3.2" width="1.4" height="1.7" fill="#D3EA8E"/><rect x="14.9" y="3.7" width="1.4" height="1.0" fill="#D3EA8E"/><rect x="21.0" y="2.9" width="1.4" height="1.4" fill="#D3EA8E"/><rect x="11.8" y="8.8" width="1.2" height="1.3" fill="#D3EA8E"/><rect x="21.0" y="14.9" width="1.8" height="1.7" fill="#D3EA8E"/><rect x="4.5" y="3.8" width="1.6" height="1.4" fill="#D3EA8E"/><rect x="15.3" y="0.8" width="1.2" height="1.6" fill="#D3EA8E"/><rect x="11.9" y="7.8" width="1.2" height="1.1" fill="#D3EA8E"/><rect x="9.1" y="10.3" width="1.4" height="1.3" fill="#D3EA8E"/><rect x="17.0" y="13.4" width="1.6" height="1.1" fill="#D3EA8E"/><rect x="6.4" y="20.8" width="1.6" height="1.1" fill="#D3EA8E"/><rect x="8.4" y="7.7" width="1.8" height="1.2" fill="#D3EA8E"/><rect x="11.4" y="9.5" width="1.3" height="1.8" fill="#D3EA8E"/><rect x="20.9" y="14.6" width="1.7" height="1.5" fill="#D3EA8E"/><rect x="11.3" y="12.0" width="1.4" height="1.1" fill="#D3EA8E"/><rect x="8.2" y="12.3" width="1.5" height="1.7" fill="#D3EA8E"/><rect x="18.4" y="5.9" width="1.7" height="1.8" fill="#D3EA8E"/><rect x="7.0" y="12.4" width="1.7" height="1.5" fill="#D3EA8E"/><rect x="5.5" y="10.9" width="1.6" height="1.6" fill="#D3EA8E"/></pattern>
<pattern id="pga" patternUnits="userSpaceOnUse" width="24" height="24"><rect x="15.5" y="18.8" width="1.3" height="1.8" fill="#D3EA8E"/><rect x="3.4" y="5.1" width="1.2" height="1.3" fill="#D3EA8E"/><rect x="11.8" y="4.9" width="1.9" height="1.2" fill="#D3EA8E"/><rect x="19.0" y="13.7" width="1.4" height="1.5" fill="#D3EA8E"/><rect x="3.4" y="19.8" width="1.0" height="1.3" fill="#D3EA8E"/><rect x="18.2" y="16.4" width="2.0" height="2.0" fill="#D3EA8E"/><rect x="5.6" y="18.7" width="2.1" height="2.0" fill="#D3EA8E"/><rect x="12.6" y="9.5" width="1.6" height="1.9" fill="#D3EA8E"/><rect x="7.1" y="2.6" width="1.4" height="1.5" fill="#D3EA8E"/><rect x="21.7" y="15.2" width="2.0" height="2.0" fill="#D3EA8E"/><rect x="3.0" y="15.0" width="1.7" height="1.9" fill="#D3EA8E"/><rect x="4.6" y="11.9" width="1.5" height="1.2" fill="#D3EA8E"/><rect x="13.7" y="8.9" width="1.3" height="1.6" fill="#D3EA8E"/><rect x="5.4" y="5.3" width="1.2" height="1.6" fill="#D3EA8E"/><rect x="1.7" y="14.7" width="1.2" height="1.4" fill="#D3EA8E"/><rect x="15.7" y="21.0" width="2.1" height="1.5" fill="#D3EA8E"/><rect x="18.5" y="19.1" width="1.1" height="1.2" fill="#D3EA8E"/><rect x="9.2" y="19.8" width="1.8" height="1.2" fill="#D3EA8E"/><rect x="4.5" y="18.8" width="2.1" height="2.0" fill="#D3EA8E"/><rect x="3.1" y="21.5" width="1.4" height="1.9" fill="#D3EA8E"/><rect x="4.7" y="13.7" width="1.7" height="1.9" fill="#D3EA8E"/><rect x="8.0" y="16.2" width="1.7" height="1.7" fill="#D3EA8E"/><rect x="3.7" y="15.5" width="1.4" height="1.4" fill="#D3EA8E"/><rect x="1.6" y="14.6" width="1.1" height="1.3" fill="#D3EA8E"/><rect x="0.9" y="9.8" width="1.7" height="1.7" fill="#D3EA8E"/><rect x="0.1" y="22.8" width="1.4" height="1.1" fill="#D3EA8E"/><rect x="6.1" y="13.5" width="1.1" height="1.4" fill="#D3EA8E"/><rect x="8.4" y="18.7" width="1.1" height="1.6" fill="#D3EA8E"/><rect x="11.4" y="21.9" width="1.0" height="1.4" fill="#D3EA8E"/><rect x="15.0" y="6.7" width="1.6" height="1.6" fill="#D3EA8E"/><rect x="20.9" y="16.5" width="1.0" height="1.6" fill="#D3EA8E"/><rect x="19.3" y="5.7" width="1.3" height="1.8" fill="#D3EA8E"/><rect x="5.4" y="6.5" width="1.7" height="1.4" fill="#D3EA8E"/><rect x="0.9" y="9.0" width="1.2" height="1.4" fill="#D3EA8E"/><rect x="13.7" y="0.1" width="1.1" height="1.9" fill="#D3EA8E"/><rect x="10.6" y="12.6" width="1.9" height="1.2" fill="#D3EA8E"/><rect x="9.8" y="3.1" width="1.4" height="1.3" fill="#D3EA8E"/><rect x="18.1" y="5.0" width="2.0" height="1.1" fill="#D3EA8E"/><rect x="0.8" y="2.9" width="1.4" height="1.5" fill="#D3EA8E"/><rect x="19.8" y="22.2" width="1.4" height="1.5" fill="#D3EA8E"/><rect x="3.0" y="18.0" width="1.1" height="1.6" fill="#D3EA8E"/><rect x="12.3" y="2.8" width="1.4" height="2.1" fill="#D3EA8E"/><rect x="20.0" y="3.4" width="1.0" height="1.3" fill="#D3EA8E"/><rect x="7.7" y="18.1" width="1.6" height="1.4" fill="#D3EA8E"/><rect x="15.2" y="20.7" width="1.3" height="1.9" fill="#D3EA8E"/><rect x="9.9" y="12.6" width="1.6" height="2.1" fill="#D3EA8E"/><rect x="20.0" y="2.5" width="1.7" height="2.0" fill="#D3EA8E"/><rect x="18.6" y="11.9" width="1.2" height="1.6" fill="#D3EA8E"/><rect x="6.7" y="1.9" width="1.4" height="2.2" fill="#D3EA8E"/><rect x="16.7" y="2.5" width="1.1" height="1.0" fill="#D3EA8E"/><rect x="22.1" y="17.8" width="1.9" height="2.0" fill="#D3EA8E"/><rect x="18.7" y="15.9" width="1.5" height="1.7" fill="#D3EA8E"/><rect x="2.5" y="6.8" width="1.3" height="1.9" fill="#D3EA8E"/><rect x="5.8" y="17.6" width="2.2" height="1.6" fill="#D3EA8E"/><rect x="0.7" y="6.0" width="1.5" height="1.0" fill="#D3EA8E"/><rect x="5.6" y="18.9" width="1.3" height="1.7" fill="#A8DB70"/><rect x="22.2" y="17.3" width="1.7" height="1.3" fill="#A8DB70"/><rect x="10.4" y="20.6" width="1.4" height="1.2" fill="#A8DB70"/><rect x="8.5" y="10.9" width="1.4" height="1.2" fill="#A8DB70"/><rect x="0.8" y="18.5" width="1.2" height="1.5" fill="#A8DB70"/><rect x="13.5" y="7.0" width="1.1" height="1.1" fill="#A8DB70"/><rect x="11.6" y="18.9" width="1.7" height="1.4" fill="#A8DB70"/><rect x="14.8" y="9.6" width="1.2" height="1.6" fill="#A8DB70"/><rect x="19.2" y="3.3" width="1.8" height="1.0" fill="#A8DB70"/><rect x="1.2" y="11.5" width="1.7" height="1.1" fill="#A8DB70"/><rect x="10.8" y="13.9" width="1.7" height="1.2" fill="#A8DB70"/><rect x="0.2" y="10.1" width="1.2" height="1.4" fill="#A8DB70"/><rect x="4.9" y="1.2" width="1.6" height="1.3" fill="#A8DB70"/><rect x="20.5" y="16.8" width="1.6" height="1.3" fill="#A8DB70"/><rect x="21.4" y="18.2" width="1.1" height="1.7" fill="#A8DB70"/><rect x="16.1" y="15.0" width="1.7" height="1.5" fill="#A8DB70"/><rect x="3.0" y="16.6" width="1.5" height="1.2" fill="#A8DB70"/><rect x="14.5" y="14.0" width="1.5" height="1.0" fill="#A8DB70"/></pattern>
<pattern id="poa" patternUnits="userSpaceOnUse" width="24" height="24"><rect x="14.9" y="20.6" width="1.2" height="2.1" fill="#FFD985"/><rect x="16.6" y="14.9" width="1.4" height="1.4" fill="#FFD985"/><rect x="8.9" y="17.0" width="1.5" height="2.1" fill="#FFD985"/><rect x="20.6" y="8.1" width="1.2" height="1.4" fill="#FFD985"/><rect x="14.3" y="3.3" width="1.4" height="2.3" fill="#FFD985"/><rect x="3.6" y="14.3" width="1.9" height="2.1" fill="#FFD985"/><rect x="1.9" y="4.6" width="1.2" height="1.5" fill="#FFD985"/><rect x="21.2" y="9.8" width="2.6" height="1.6" fill="#FFD985"/><rect x="15.1" y="2.4" width="2.0" height="2.4" fill="#FFD985"/><rect x="4.0" y="2.1" width="1.9" height="2.0" fill="#FFD985"/><rect x="4.2" y="10.0" width="2.4" height="1.8" fill="#FFD985"/><rect x="11.3" y="2.2" width="1.3" height="2.3" fill="#FFD985"/><rect x="6.1" y="0.6" width="2.3" height="1.1" fill="#FFD985"/><rect x="11.5" y="2.1" width="2.2" height="1.2" fill="#FFD985"/><rect x="11.9" y="10.0" width="1.8" height="2.1" fill="#FFD985"/><rect x="13.2" y="2.1" width="1.8" height="1.7" fill="#FFD985"/><rect x="19.2" y="21.2" width="1.8" height="1.4" fill="#FFD985"/><rect x="16.1" y="13.0" width="1.1" height="1.2" fill="#FFD985"/><rect x="21.7" y="9.3" width="1.0" height="2.1" fill="#FFD985"/><rect x="21.1" y="5.8" width="1.6" height="1.9" fill="#FFD985"/><rect x="14.1" y="10.7" width="1.5" height="1.3" fill="#FFD985"/><rect x="0.8" y="7.0" width="1.4" height="1.6" fill="#FFD985"/><rect x="6.1" y="20.7" width="2.6" height="1.9" fill="#FFD985"/><rect x="0.8" y="3.3" width="1.6" height="1.4" fill="#FFD985"/><rect x="19.8" y="6.0" width="1.3" height="1.4" fill="#FFD985"/><rect x="20.7" y="6.4" width="1.4" height="2.0" fill="#FFD985"/><rect x="12.2" y="13.4" width="2.2" height="1.6" fill="#FFD985"/><rect x="10.9" y="18.3" width="2.5" height="2.2" fill="#FFD985"/><rect x="21.5" y="12.2" width="1.6" height="1.6" fill="#FFD985"/><rect x="19.9" y="13.8" width="2.2" height="1.5" fill="#FFD985"/><rect x="10.6" y="7.3" width="1.4" height="2.5" fill="#FFD985"/><rect x="4.5" y="15.8" width="1.4" height="1.2" fill="#FFD985"/><rect x="10.2" y="12.3" width="1.2" height="1.4" fill="#FFD985"/><rect x="5.7" y="8.0" width="1.6" height="2.3" fill="#FFD985"/><rect x="5.0" y="3.3" width="1.7" height="1.2" fill="#FFD985"/><rect x="14.6" y="5.1" width="2.2" height="1.2" fill="#FFD985"/><rect x="7.8" y="20.5" width="2.0" height="2.1" fill="#FFD985"/><rect x="1.0" y="9.0" width="2.1" height="1.9" fill="#FFD985"/><rect x="21.1" y="19.2" width="1.4" height="1.8" fill="#FFD985"/><rect x="21.4" y="11.9" width="1.1" height="2.1" fill="#FFD985"/><rect x="9.7" y="21.2" width="1.2" height="2.4" fill="#FFD985"/><rect x="20.1" y="1.5" width="2.4" height="2.3" fill="#FFD985"/><rect x="2.9" y="8.5" width="2.3" height="1.5" fill="#FFD985"/><rect x="9.9" y="18.0" width="1.9" height="1.0" fill="#FFD985"/><rect x="6.6" y="21.5" width="1.8" height="1.8" fill="#FFD985"/><rect x="14.6" y="0.0" width="1.4" height="2.1" fill="#FFD985"/><rect x="21.2" y="21.0" width="2.6" height="1.4" fill="#FFD985"/><rect x="8.6" y="9.6" width="2.4" height="2.4" fill="#FFD985"/><rect x="0.7" y="2.9" width="1.6" height="2.5" fill="#FFD985"/><rect x="15.2" y="21.0" width="2.5" height="2.3" fill="#FFD985"/><rect x="9.8" y="19.5" width="1.8" height="2.3" fill="#FFD985"/><rect x="13.2" y="17.7" width="1.1" height="1.7" fill="#FFD985"/><rect x="21.6" y="9.2" width="1.7" height="2.1" fill="#FFD985"/><rect x="19.5" y="10.9" width="1.3" height="1.0" fill="#FFD985"/><rect x="2.7" y="4.9" width="1.6" height="1.8" fill="#FFD985"/><rect x="19.4" y="5.6" width="1.4" height="1.4" fill="#FFD985"/><rect x="12.8" y="0.6" width="1.1" height="2.4" fill="#FFD985"/><rect x="14.2" y="17.0" width="2.1" height="2.1" fill="#FFD985"/><rect x="16.6" y="14.2" width="1.7" height="1.4" fill="#FFD985"/><rect x="8.2" y="15.7" width="2.1" height="1.3" fill="#FFD985"/><rect x="10.6" y="16.6" width="1.6" height="2.0" fill="#FFD985"/><rect x="18.6" y="6.9" width="1.6" height="1.8" fill="#FFD985"/><rect x="3.0" y="18.8" width="1.3" height="2.0" fill="#FFD985"/><rect x="12.0" y="3.3" width="1.4" height="2.4" fill="#FFD985"/><rect x="10.8" y="13.9" width="1.8" height="2.1" fill="#FFD985"/><rect x="3.9" y="17.1" width="1.6" height="2.5" fill="#FFD985"/><rect x="1.5" y="2.9" width="1.0" height="1.8" fill="#FFD985"/><rect x="6.8" y="8.7" width="1.9" height="2.4" fill="#FFD985"/><rect x="7.8" y="7.7" width="1.8" height="2.0" fill="#FFD985"/><rect x="7.6" y="18.1" width="2.4" height="1.9" fill="#FFD985"/><rect x="0.3" y="6.9" width="2.2" height="1.5" fill="#FFBF70"/><rect x="4.4" y="18.1" width="2.1" height="1.2" fill="#FFBF70"/><rect x="5.2" y="8.5" width="1.1" height="2.0" fill="#FFBF70"/><rect x="17.3" y="10.0" width="1.7" height="1.1" fill="#FFBF70"/><rect x="1.7" y="18.2" width="1.9" height="1.9" fill="#FFBF70"/><rect x="13.0" y="4.7" width="2.0" height="1.3" fill="#FFBF70"/><rect x="8.4" y="11.8" width="1.6" height="1.9" fill="#FFBF70"/><rect x="14.3" y="18.2" width="1.2" height="2.0" fill="#FFBF70"/><rect x="2.1" y="12.3" width="1.1" height="1.9" fill="#FFBF70"/><rect x="2.4" y="10.4" width="1.3" height="2.1" fill="#FFBF70"/><rect x="1.4" y="15.0" width="1.6" height="1.5" fill="#FFBF70"/><rect x="19.6" y="7.6" width="2.2" height="1.4" fill="#FFBF70"/><rect x="22.1" y="17.5" width="1.3" height="1.5" fill="#FFBF70"/><rect x="10.0" y="0.3" width="1.8" height="1.0" fill="#FFBF70"/><rect x="5.6" y="2.3" width="1.1" height="1.5" fill="#FFBF70"/><rect x="20.7" y="20.2" width="1.6" height="1.9" fill="#FFBF70"/><rect x="21.7" y="9.6" width="1.5" height="1.2" fill="#FFBF70"/><rect x="12.6" y="21.0" width="1.4" height="2.0" fill="#FFBF70"/><rect x="3.4" y="20.6" width="1.8" height="2.1" fill="#FFBF70"/><rect x="6.7" y="5.4" width="1.6" height="1.8" fill="#FFBF70"/><rect x="21.8" y="2.7" width="1.4" height="1.2" fill="#FFBF70"/><rect x="4.6" y="4.8" width="1.3" height="1.8" fill="#FFBF70"/><rect x="0.2" y="16.8" width="1.3" height="1.3" fill="#FFBF70"/><rect x="20.0" y="12.7" width="1.8" height="1.4" fill="#FFBF70"/><rect x="5.2" y="17.7" width="1.3" height="2.2" fill="#FFBF70"/><rect x="18.7" y="9.7" width="2.0" height="1.0" fill="#FFBF70"/><rect x="10.1" y="5.3" width="1.6" height="2.1" fill="#FFBF70"/><rect x="10.4" y="15.6" width="1.1" height="2.1" fill="#FFBF70"/><rect x="20.8" y="20.4" width="1.8" height="2.2" fill="#FFBF70"/><rect x="6.9" y="2.7" width="1.6" height="2.1" fill="#FFBF70"/><rect x="21.9" y="7.5" width="1.5" height="1.0" fill="#FFA65A"/><rect x="7.3" y="12.2" width="1.3" height="1.2" fill="#FFA65A"/><rect x="7.7" y="5.7" width="1.6" height="1.0" fill="#FFA65A"/><rect x="9.9" y="21.2" width="1.8" height="1.4" fill="#FFA65A"/><rect x="9.1" y="5.4" width="1.3" height="1.3" fill="#FFA65A"/><rect x="11.4" y="13.0" width="1.6" height="1.2" fill="#FFA65A"/><rect x="10.8" y="21.3" width="1.6" height="1.6" fill="#FFA65A"/><rect x="15.9" y="10.1" width="1.8" height="1.8" fill="#FFA65A"/><rect x="10.8" y="16.7" width="1.3" height="1.7" fill="#FFA65A"/><rect x="0.4" y="16.6" width="1.3" height="1.3" fill="#FFA65A"/><rect x="16.5" y="18.8" width="1.2" height="1.4" fill="#FFA65A"/><rect x="5.2" y="20.9" width="1.8" height="1.5" fill="#FFA65A"/><rect x="21.2" y="19.2" width="1.0" height="1.3" fill="#FFA65A"/><rect x="4.0" y="0.9" width="1.5" height="1.7" fill="#FFA65A"/></pattern>
<pattern id="por" patternUnits="userSpaceOnUse" width="24" height="24"><rect width="24" height="24" fill="#FFB868"/><rect x="15.9" y="3.6" width="2.4" height="1.0" fill="#FF8A4A"/><rect x="19.0" y="15.7" width="2.4" height="1.0" fill="#FF8A4A"/><rect x="5.2" y="7.3" width="2.2" height="2.4" fill="#FF8A4A"/><rect x="5.8" y="5.2" width="2.0" height="1.4" fill="#FF8A4A"/><rect x="17.4" y="4.9" width="2.2" height="2.2" fill="#FF8A4A"/><rect x="5.0" y="10.2" width="2.3" height="1.7" fill="#FF8A4A"/><rect x="12.7" y="8.2" width="1.6" height="1.1" fill="#FF8A4A"/><rect x="14.3" y="8.8" width="1.8" height="2.3" fill="#FF8A4A"/><rect x="10.7" y="20.4" width="2.2" height="2.4" fill="#FF8A4A"/><rect x="4.0" y="21.4" width="1.0" height="1.2" fill="#FF8A4A"/><rect x="6.3" y="10.9" width="2.0" height="2.0" fill="#FF8A4A"/><rect x="2.5" y="1.1" width="2.2" height="1.1" fill="#FF8A4A"/><rect x="12.4" y="8.8" width="1.7" height="2.2" fill="#FF8A4A"/><rect x="21.1" y="8.0" width="1.7" height="1.3" fill="#FF8A4A"/><rect x="18.7" y="7.2" width="1.3" height="1.4" fill="#FF8A4A"/><rect x="9.6" y="1.7" width="2.3" height="1.5" fill="#FF8A4A"/><rect x="10.3" y="2.5" width="2.3" height="2.1" fill="#FF8A4A"/><rect x="18.7" y="20.9" width="1.7" height="1.5" fill="#FF8A4A"/><rect x="0.9" y="20.2" width="2.0" height="1.4" fill="#FF8A4A"/><rect x="10.8" y="11.0" width="2.3" height="1.2" fill="#FF8A4A"/><rect x="1.3" y="19.4" width="2.4" height="1.1" fill="#FF8A4A"/><rect x="17.3" y="13.3" width="1.8" height="1.6" fill="#FF8A4A"/><rect x="1.9" y="0.2" width="2.0" height="1.4" fill="#FF8A4A"/><rect x="8.6" y="7.7" width="1.5" height="1.9" fill="#FF8A4A"/><rect x="13.2" y="6.9" width="1.9" height="2.0" fill="#FF8A4A"/><rect x="19.5" y="19.5" width="2.2" height="2.1" fill="#FF8A4A"/><rect x="8.0" y="8.6" width="1.0" height="1.9" fill="#FF8A4A"/><rect x="5.6" y="22.5" width="1.7" height="1.2" fill="#FF8A4A"/><rect x="15.4" y="6.8" width="1.5" height="2.3" fill="#FF8A4A"/><rect x="15.8" y="7.5" width="1.4" height="1.8" fill="#FF8A4A"/><rect x="19.7" y="16.6" width="1.1" height="1.2" fill="#FF8A4A"/><rect x="13.2" y="7.3" width="1.2" height="2.2" fill="#FF8A4A"/><rect x="2.1" y="7.8" width="2.3" height="1.2" fill="#FF8A4A"/><rect x="10.6" y="20.2" width="2.0" height="1.8" fill="#FF8A4A"/><rect x="0.1" y="17.1" width="1.6" height="2.1" fill="#FF8A4A"/><rect x="19.1" y="14.5" width="1.2" height="1.9" fill="#FF8A4A"/><rect x="16.7" y="8.2" width="1.8" height="1.8" fill="#FF8A4A"/><rect x="11.8" y="2.6" width="1.3" height="1.8" fill="#FF8A4A"/><rect x="3.5" y="15.8" width="1.7" height="1.7" fill="#FF8A4A"/><rect x="19.0" y="22.2" width="2.1" height="1.5" fill="#FF8A4A"/><rect x="6.1" y="2.9" width="1.7" height="1.4" fill="#FF6A3C"/><rect x="1.4" y="20.2" width="1.3" height="2.0" fill="#FF6A3C"/><rect x="2.2" y="14.4" width="1.7" height="1.8" fill="#FF6A3C"/><rect x="18.1" y="16.1" width="1.2" height="1.7" fill="#FF6A3C"/><rect x="5.2" y="3.5" width="1.5" height="1.9" fill="#FF6A3C"/><rect x="9.3" y="9.6" width="1.9" height="1.1" fill="#FF6A3C"/><rect x="12.6" y="11.3" width="1.9" height="1.4" fill="#FF6A3C"/><rect x="10.5" y="13.4" width="1.5" height="1.5" fill="#FF6A3C"/><rect x="20.9" y="22.0" width="1.4" height="1.4" fill="#FF6A3C"/><rect x="0.5" y="7.3" width="1.2" height="1.9" fill="#FF6A3C"/><rect x="14.8" y="22.7" width="1.9" height="1.2" fill="#FF6A3C"/><rect x="0.7" y="10.2" width="1.6" height="1.5" fill="#FF6A3C"/><rect x="8.8" y="17.9" width="1.5" height="1.8" fill="#FF6A3C"/><rect x="17.1" y="3.7" width="1.4" height="1.6" fill="#FF6A3C"/><rect x="10.6" y="21.9" width="2.0" height="1.5" fill="#FF6A3C"/><rect x="4.8" y="4.9" width="1.6" height="1.5" fill="#FF6A3C"/><rect x="14.6" y="15.6" width="1.8" height="1.5" fill="#FF6A3C"/><rect x="19.3" y="10.2" width="1.7" height="1.3" fill="#FF6A3C"/><rect x="20.6" y="2.7" width="1.2" height="1.9" fill="#FF6A3C"/><rect x="6.0" y="12.8" width="1.9" height="1.7" fill="#FF6A3C"/><rect x="14.6" y="5.5" width="1.9" height="1.2" fill="#FF6A3C"/><rect x="22.7" y="14.4" width="1.1" height="2.0" fill="#FF6A3C"/><rect x="9.5" y="13.9" width="1.8" height="1.4" fill="#FF6A3C"/><rect x="10.4" y="14.0" width="1.8" height="1.7" fill="#FF6A3C"/><rect x="19.7" y="17.3" width="1.3" height="1.6" fill="#FF4A2A"/><rect x="22.3" y="8.6" width="1.3" height="1.3" fill="#FF4A2A"/><rect x="3.0" y="5.2" width="1.5" height="1.1" fill="#FF4A2A"/><rect x="14.8" y="1.7" width="1.5" height="1.2" fill="#FF4A2A"/><rect x="5.8" y="5.4" width="1.6" height="1.6" fill="#FF4A2A"/><rect x="4.2" y="5.3" width="1.2" height="1.4" fill="#FF4A2A"/><rect x="3.5" y="11.4" width="2.0" height="2.1" fill="#FFD985"/><rect x="12.4" y="11.6" width="1.8" height="2.1" fill="#FFD985"/><rect x="15.7" y="13.7" width="1.9" height="1.9" fill="#FFD985"/><rect x="16.9" y="5.1" width="2.0" height="1.1" fill="#FFD985"/><rect x="11.7" y="13.3" width="1.4" height="1.5" fill="#FFD985"/><rect x="8.0" y="14.8" width="1.7" height="1.4" fill="#FFD985"/><rect x="0.2" y="19.2" width="2.1" height="1.5" fill="#FFD985"/><rect x="14.0" y="9.2" width="2.1" height="2.0" fill="#FFD985"/><rect x="10.0" y="2.7" width="1.1" height="2.1" fill="#FFD985"/><rect x="8.7" y="13.8" width="1.7" height="1.1" fill="#FFD985"/><rect x="4.3" y="7.8" width="2.0" height="1.4" fill="#FFD985"/><rect x="3.1" y="8.0" width="2.0" height="1.1" fill="#FFD985"/><rect x="21.1" y="1.1" width="2.1" height="2.1" fill="#FFD985"/><rect x="13.1" y="18.1" width="1.6" height="1.2" fill="#FFD985"/><rect x="15.3" y="11.2" width="1.6" height="1.8" fill="#FFD985"/><rect x="16.2" y="22.3" width="1.5" height="1.3" fill="#FFD985"/></pattern>
<pattern id="poc" patternUnits="userSpaceOnUse" width="24" height="24"><rect x="9.4" y="10.0" width="1.4" height="1.6" fill="#FFD985"/><rect x="5.8" y="14.1" width="1.5" height="1.8" fill="#FFD985"/><rect x="7.7" y="3.2" width="1.0" height="1.4" fill="#FFD985"/><rect x="17.4" y="21.6" width="1.9" height="1.4" fill="#FFD985"/><rect x="18.3" y="14.6" width="1.3" height="2.1" fill="#FFD985"/><rect x="14.4" y="6.7" width="1.0" height="1.5" fill="#FFD985"/><rect x="5.9" y="17.8" width="1.3" height="1.4" fill="#FFD985"/><rect x="14.5" y="21.3" width="1.4" height="1.5" fill="#FFD985"/><rect x="22.1" y="19.1" width="1.4" height="1.1" fill="#FFD985"/><rect x="5.2" y="3.5" width="1.9" height="1.6" fill="#FFD985"/><rect x="1.5" y="15.7" width="1.4" height="1.6" fill="#FFD985"/><rect x="18.6" y="11.3" width="1.9" height="1.0" fill="#FFD985"/><rect x="17.4" y="10.2" width="2.1" height="1.6" fill="#FFD985"/><rect x="0.5" y="3.2" width="1.7" height="1.6" fill="#FFD985"/><rect x="8.4" y="12.1" width="1.3" height="1.5" fill="#FFD985"/><rect x="7.1" y="11.5" width="1.8" height="1.5" fill="#FFD985"/><rect x="14.3" y="18.0" width="2.1" height="1.9" fill="#FFD985"/><rect x="2.1" y="2.8" width="1.3" height="1.1" fill="#FFD985"/><rect x="21.1" y="2.5" width="1.0" height="1.8" fill="#FFD985"/><rect x="17.0" y="3.4" width="1.8" height="2.1" fill="#FFD985"/><rect x="4.0" y="0.3" width="1.8" height="1.3" fill="#FFD985"/><rect x="2.3" y="3.2" width="1.6" height="2.1" fill="#FFD985"/><rect x="10.5" y="16.8" width="1.5" height="1.0" fill="#FFD985"/><rect x="0.7" y="4.5" width="1.6" height="1.0" fill="#FFD985"/><rect x="11.2" y="2.3" width="1.8" height="2.1" fill="#FFD985"/><rect x="2.5" y="2.6" width="1.1" height="1.2" fill="#FFC070"/><rect x="5.4" y="19.9" width="1.3" height="1.5" fill="#FFC070"/><rect x="5.1" y="4.2" width="1.5" height="1.3" fill="#FFC070"/><rect x="19.4" y="4.7" width="1.4" height="1.5" fill="#FFC070"/><rect x="6.9" y="6.8" width="1.3" height="1.0" fill="#FFC070"/><rect x="22.8" y="7.0" width="1.1" height="1.0" fill="#FFC070"/><rect x="10.7" y="13.4" width="1.3" height="1.3" fill="#FFC070"/><rect x="1.8" y="14.4" width="1.3" height="1.3" fill="#FFC070"/></pattern>
<pattern id="pwa" patternUnits="userSpaceOnUse" width="24" height="24"><rect x="21.6" y="6.4" width="1.5" height="1.8" fill="#8DD35C"/><rect x="14.7" y="2.5" width="1.8" height="1.7" fill="#8DD35C"/><rect x="17.1" y="5.7" width="1.0" height="1.4" fill="#8DD35C"/><rect x="19.0" y="21.4" width="1.5" height="1.3" fill="#8DD35C"/><rect x="1.4" y="17.9" width="1.4" height="2.0" fill="#8DD35C"/><rect x="15.6" y="12.8" width="1.9" height="1.2" fill="#8DD35C"/><rect x="11.9" y="20.1" width="2.0" height="1.2" fill="#8DD35C"/><rect x="1.8" y="21.3" width="1.6" height="1.3" fill="#8DD35C"/><rect x="3.2" y="17.9" width="1.5" height="2.0" fill="#8DD35C"/><rect x="0.4" y="8.2" width="1.8" height="1.9" fill="#8DD35C"/><rect x="8.1" y="21.3" width="1.1" height="1.8" fill="#8DD35C"/><rect x="19.6" y="5.3" width="1.4" height="1.8" fill="#8DD35C"/><rect x="11.8" y="7.9" width="1.7" height="2.1" fill="#00B552"/><rect x="4.4" y="13.3" width="1.3" height="1.9" fill="#00B552"/><rect x="2.9" y="14.7" width="1.7" height="1.7" fill="#00B552"/><rect x="7.3" y="20.6" width="2.1" height="1.4" fill="#00B552"/><rect x="0.2" y="17.1" width="1.7" height="1.3" fill="#00B552"/><rect x="6.2" y="14.2" width="1.4" height="1.6" fill="#00B552"/><rect x="1.7" y="22.3" width="1.9" height="1.4" fill="#00B552"/><rect x="12.4" y="15.8" width="2.1" height="1.0" fill="#00B552"/><rect x="21.6" y="13.1" width="1.5" height="1.9" fill="#00B552"/><rect x="5.7" y="3.4" width="1.5" height="1.2" fill="#00B552"/><rect x="19.3" y="12.2" width="1.1" height="1.3" fill="#00B552"/><rect x="17.9" y="1.1" width="2.0" height="2.1" fill="#00B552"/><rect x="16.9" y="19.2" width="2.1" height="1.1" fill="#00B552"/><rect x="1.7" y="1.9" width="1.8" height="1.5" fill="#00B552"/><rect x="11.9" y="6.0" width="1.6" height="1.2" fill="#D3EA8E"/><rect x="16.6" y="11.1" width="1.2" height="1.3" fill="#D3EA8E"/><rect x="12.5" y="11.6" width="1.4" height="1.5" fill="#D3EA8E"/><rect x="17.0" y="5.0" width="1.4" height="2.0" fill="#D3EA8E"/><rect x="8.3" y="0.6" width="1.3" height="1.2" fill="#D3EA8E"/><rect x="9.4" y="20.0" width="1.7" height="1.6" fill="#D3EA8E"/><rect x="21.1" y="12.5" width="1.3" height="1.6" fill="#D3EA8E"/><rect x="22.3" y="17.1" width="1.6" height="1.4" fill="#D3EA8E"/><rect x="13.4" y="11.7" width="1.3" height="1.4" fill="#D3EA8E"/><rect x="12.9" y="16.1" width="1.5" height="1.2" fill="#D3EA8E"/><rect x="9.9" y="11.4" width="1.8" height="1.4" fill="#D3EA8E"/><rect x="0.3" y="5.9" width="1.5" height="1.5" fill="#D3EA8E"/><rect x="10.3" y="16.7" width="2.0" height="1.8" fill="#D3EA8E"/><rect x="11.8" y="15.9" width="1.2" height="1.3" fill="#D3EA8E"/><rect x="20.8" y="13.8" width="1.0" height="1.5" fill="#D3EA8E"/><rect x="20.0" y="19.2" width="2.0" height="1.1" fill="#D3EA8E"/></pattern>
<filter id="softf4" x="-20%" y="-20%" width="140%" height="140%"><feGaussianBlur stdDeviation="4"/></filter>
<filter id="softf5" x="-20%" y="-20%" width="140%" height="140%"><feGaussianBlur stdDeviation="5"/></filter>
<filter id="softf6" x="-20%" y="-20%" width="140%" height="140%"><feGaussianBlur stdDeviation="6"/></filter>
<filter id="softf8" x="-20%" y="-20%" width="140%" height="140%"><feGaussianBlur stdDeviation="8"/></filter>
<filter id="rough2" x="-5%" y="-5%" width="110%" height="110%"><feTurbulence type="turbulence" baseFrequency="0.35" numOctaves="2" seed="9" result="t"/><feDisplacementMap in="SourceGraphic" in2="t" scale="4" xChannelSelector="R" yChannelSelector="G"/></filter>
<filter id="rough" x="-5%" y="-5%" width="110%" height="110%"><feTurbulence type="turbulence" baseFrequency="0.18" numOctaves="2" seed="5" result="t"/><feDisplacementMap in="SourceGraphic" in2="t" scale="7" xChannelSelector="R" yChannelSelector="G"/></filter>
</defs>
<rect width="1024" height="858" fill="#fff"/>
<clipPath id="fra"><rect x="60.0" y="31.7" width="371.5" height="369.8"/></clipPath>
<g clip-path="url(#fra)">
<rect x="60.0" y="31.7" width="371.5" height="369.8" fill="#58C6E2"/>
<use href="#base1" transform="translate(0.0,0.0)"/>
<g clip-path="url(#lda)">
<mask id="mwa1" maskUnits="userSpaceOnUse" x="0" y="0" width="1024" height="858"><path d="M78.5 162.0 L108.4 165.2 L136.0 167.5 L163.6 169.8 L191.2 172.1 L209.6 171.2 L209.6 189.6 L177.4 194.2 L154.4 196.5 L117.6 198.8 L80.8 175.8 Z" fill="#fff" filter="url(#softf6)"/></mask><path d="M64.7 212.6 L223.4 212.6 L223.4 148.2 L64.7 148.2 Z" fill="#FFD080" mask="url(#mwa1)" opacity="0.30"/>
<mask id="mwa2" maskUnits="userSpaceOnUse" x="0" y="0" width="1024" height="858"><path d="M78.5 162.0 L108.4 165.2 L136.0 167.5 L163.6 169.8 L191.2 172.1 L209.6 171.2 L209.6 189.6 L177.4 194.2 L154.4 196.5 L117.6 198.8 L80.8 175.8 Z" fill="#fff" filter="url(#softf6)"/></mask><path d="M64.7 212.6 L223.4 212.6 L223.4 148.2 L64.7 148.2 Z" fill="url(#poa)" mask="url(#mwa2)" opacity="0.95"/>
<mask id="mwa3" maskUnits="userSpaceOnUse" x="0" y="0" width="1024" height="858"><path d="M113.0 177.6 L131.4 178.6 L147.5 180.4 L156.7 183.6 L154.4 191.9 L140.6 195.1 L117.6 191.9 Z" fill="#fff" filter="url(#softf4)"/></mask><path d="M99.2 208.9 L170.5 208.9 L170.5 163.8 L99.2 163.8 Z" fill="url(#por)" mask="url(#mwa3)" opacity="1"/>
<mask id="mca" maskUnits="userSpaceOnUse" x="0" y="0" width="1024" height="858"><path d="M214.2 185.0 L246.4 185.9 L278.6 188.2 L278.6 196.5 L246.4 196.0 L214.2 194.2 Z" fill="#fff" filter="url(#softf4)"/></mask><path d="M200.4 210.3 L292.4 210.3 L292.4 171.2 L200.4 171.2 Z" fill="url(#poc)" mask="url(#mca)" opacity="0.9"/>
<mask id="man1" maskUnits="userSpaceOnUse" x="0" y="0" width="1024" height="858"><path d="M211.9 237.9 L237.2 235.6 L264.8 237.9 L287.8 244.8 L294.7 263.2 L287.8 285.3 L264.8 287.1 L237.2 286.2 L218.8 277.0 L214.2 254.0 Z" fill="#fff" filter="url(#softf8)"/></mask><path d="M198.1 300.9 L308.5 300.9 L308.5 221.8 L198.1 221.8 Z" fill="#FFD080" mask="url(#man1)" opacity="0.30"/>
<mask id="man2" maskUnits="userSpaceOnUse" x="0" y="0" width="1024" height="858"><path d="M211.9 237.9 L237.2 235.6 L264.8 237.9 L287.8 244.8 L294.7 263.2 L287.8 285.3 L264.8 287.1 L237.2 286.2 L218.8 277.0 L214.2 254.0 Z" fill="#fff" filter="url(#softf8)"/></mask><path d="M198.1 300.9 L308.5 300.9 L308.5 221.8 L198.1 221.8 Z" fill="url(#poa)" mask="url(#man2)" opacity="0.95"/>
<mask id="man3" maskUnits="userSpaceOnUse" x="0" y="0" width="1024" height="858"><path d="M232.6 249.4 L251.0 251.7 L255.6 265.5 L241.8 270.1 L230.3 263.2 Z" fill="#fff" filter="url(#softf5)"/></mask><path d="M216.5 283.9 L269.4 283.9 L269.4 235.6 L216.5 235.6 Z" fill="url(#por)" mask="url(#man3)" opacity="0.5"/>
<mask id="man4" maskUnits="userSpaceOnUse" x="0" y="0" width="1024" height="858"><path d="M260.2 272.4 L278.6 274.7 L280.9 283.9 L264.8 285.3 Z" fill="#fff" filter="url(#softf5)"/></mask><path d="M246.4 299.1 L294.7 299.1 L294.7 258.6 L246.4 258.6 Z" fill="url(#por)" mask="url(#man4)" opacity="0.5"/>
<mask id="mrift" maskUnits="userSpaceOnUse" x="0" y="0" width="1024" height="858"><path d="M286.9 212.6 L294.7 212.6 L299.3 221.8 L297.0 237.9 L288.7 237.9 L286.0 226.4 Z" fill="#fff" filter="url(#softf4)"/></mask><path d="M272.2 251.7 L313.1 251.7 L313.1 198.8 L272.2 198.8 Z" fill="url(#por)" mask="url(#mrift)" opacity="0.75"/>
<mask id="mcg" maskUnits="userSpaceOnUse" x="0" y="0" width="1024" height="858"><path d="M195.8 191.9 L218.8 189.6 L246.4 191.9 L278.6 190.5 L297.0 203.4 L292.4 221.8 L278.6 231.0 L246.4 226.4 L218.8 224.1 L200.4 221.8 Z" fill="#fff" filter="url(#softf6)"/></mask><path d="M182.0 244.8 L310.8 244.8 L310.8 175.8 L182.0 175.8 Z" fill="url(#pga)" mask="url(#mcg)" opacity="0.95"/>
</g>
<use href="#base2" transform="translate(0.0,0.0)"/>
<line x1="155.0" y1="31.7" x2="155.0" y2="401.5" stroke="#000" stroke-opacity="0.62" stroke-width="1.3" stroke-dasharray="4.23 2.1" stroke-dashoffset="-0.5"/>
<line x1="316.0" y1="31.7" x2="316.0" y2="401.5" stroke="#000" stroke-opacity="0.62" stroke-width="1.3" stroke-dasharray="4.23 2.1" stroke-dashoffset="-0.5"/>
<line x1="60.0" y1="59.0" x2="431.5" y2="59.0" stroke="#000" stroke-opacity="0.62" stroke-width="1.3" stroke-dasharray="4.23 2.1" stroke-dashoffset="-0.5"/>
<line x1="60.0" y1="217.6" x2="431.5" y2="217.6" stroke="#000" stroke-opacity="0.62" stroke-width="1.3" stroke-dasharray="4.23 2.1" stroke-dashoffset="-0.5"/>
<line x1="60.0" y1="376.1" x2="431.5" y2="376.1" stroke="#000" stroke-opacity="0.62" stroke-width="1.3" stroke-dasharray="4.23 2.1" stroke-dashoffset="-0.5"/>
<rect x="61.0" y="32.7" width="369.5" height="367.8" fill="none" stroke="#66DCF4" stroke-width="1" stroke-opacity="0.8"/>
</g>
<rect x="60.0" y="31.7" width="371.5" height="369.8" fill="none" stroke="#4a5a60" stroke-width="1"/>
<clipPath id="frb"><rect x="493.3" y="30.5" width="371.7" height="369.8"/></clipPath>
<g clip-path="url(#frb)">
<rect x="493.3" y="30.5" width="371.7" height="369.8" fill="#58C6E2"/>
<use href="#base1" transform="translate(432.7,0.0)"/>
<g clip-path="url(#ldb)"><g filter="url(#rough)">
<path d="M624.8 189.6 L631.7 186.8 L649.2 189.6 L661.2 195.1 L675.0 197.4 L685.5 196.5 L692.9 190.5 L699.8 191.9 L706.7 197.4 L721.0 202.5 L727.9 207.1 L725.6 212.6 L723.3 218.6 L721.0 226.9 L721.9 233.8 L713.6 238.8 L702.1 241.1 L695.2 242.0 L689.2 245.7 L683.2 241.1 L676.3 236.1 L667.1 231.5 L659.8 229.2 L655.2 220.9 L652.9 229.2 L649.2 233.8 L646.9 241.1 L643.2 241.1 L634.0 229.2 L629.4 220.0 L631.7 203.4 L624.8 195.1 Z" fill="url(#pgb)"/>
<path d="M520.4 172.1 L532.8 174.0 L544.3 178.6 L553.5 183.2 L567.8 184.1 L579.3 184.1 L585.3 186.4 L589.4 191.9 L582.5 203.4 L545.7 203.4 L518.1 180.4 Z" fill="url(#pgb)"/>
<path d="M604.1 183.6 L612.4 181.3 L619.3 185.9 L626.2 186.8 L634.9 184.1 L633.1 198.8 L603.2 194.2 Z" fill="url(#pgs)"/>
<path d="M747.2 176.7 L755.0 175.8 L760.1 182.2 L753.6 185.9 L748.1 183.6 Z" fill="url(#pgb)" opacity="0.8"/>
<path d="M818.5 272.4 L824.5 288.0 L821.7 295.4 L819.4 304.6 L814.8 316.1 L810.2 329.9 L801.5 329.9 L802.8 323.0 L805.1 316.1 L808.4 309.2 L811.6 301.8 L814.3 294.5 L816.6 286.2 L815.3 279.3 Z" fill="url(#pgb)"/>
</g>
<path d="M642.3 244.8 L679.1 244.8 L706.7 244.8 L725.1 254.0 L715.9 272.4 L679.1 272.4 L651.5 263.2 Z" fill="url(#pwa)" opacity="0.35"/>
<path d="M642.3 237.9 L651.5 240.2 L653.8 254.0 L649.2 260.9 L645.1 249.4 Z" fill="url(#pgs)" opacity="0.55"/>
</g>
<use href="#base2" transform="translate(432.7,0.0)"/>
<line x1="587.7" y1="30.5" x2="587.7" y2="400.3" stroke="#000" stroke-opacity="0.62" stroke-width="1.3" stroke-dasharray="4.23 2.1" stroke-dashoffset="-0.5"/>
<line x1="748.7" y1="30.5" x2="748.7" y2="400.3" stroke="#000" stroke-opacity="0.62" stroke-width="1.3" stroke-dasharray="4.23 2.1" stroke-dashoffset="-0.5"/>
<line x1="493.3" y1="59.0" x2="865.0" y2="59.0" stroke="#000" stroke-opacity="0.62" stroke-width="1.3" stroke-dasharray="4.23 2.1" stroke-dashoffset="-0.5"/>
<line x1="493.3" y1="217.6" x2="865.0" y2="217.6" stroke="#000" stroke-opacity="0.62" stroke-width="1.3" stroke-dasharray="4.23 2.1" stroke-dashoffset="-0.5"/>
<line x1="493.3" y1="376.1" x2="865.0" y2="376.1" stroke="#000" stroke-opacity="0.62" stroke-width="1.3" stroke-dasharray="4.23 2.1" stroke-dashoffset="-0.5"/>
<rect x="494.3" y="31.5" width="369.7" height="367.8" fill="none" stroke="#66DCF4" stroke-width="1" stroke-opacity="0.8"/>
</g>
<rect x="493.3" y="30.5" width="371.7" height="369.8" fill="none" stroke="#4a5a60" stroke-width="1"/>
<clipPath id="frc"><rect x="60.0" y="448.6" width="372.0" height="369.7"/></clipPath>
<g clip-path="url(#frc)">
<rect x="60.0" y="448.6" width="372.0" height="369.7" fill="#58C6E2"/>
<use href="#base1" transform="translate(0.0,418.4)"/>
<g clip-path="url(#ldc)">
<path d="M218.8 598.8 L246.4 601.1 L274.0 602.5 L297.0 605.7 L297.0 614.9 L264.8 614.9 L223.4 614.9 Z" fill="url(#poc)" opacity="0.8"/>
<g filter="url(#rough)">
<path d="M192.1 608.0 L199.0 605.2 L216.5 608.0 L228.5 613.5 L242.3 615.8 L252.8 614.9 L260.2 608.9 L267.1 610.3 L274.0 615.8 L288.3 620.9 L295.2 625.5 L292.9 631.0 L290.6 637.0 L288.3 645.3 L289.2 652.2 L280.9 657.2 L269.4 659.5 L262.5 660.4 L256.5 664.1 L250.5 659.5 L243.6 654.5 L234.4 649.9 L227.1 647.6 L222.5 639.3 L220.2 647.6 L216.5 652.2 L214.2 659.5 L210.5 659.5 L201.3 647.6 L196.7 638.4 L199.0 621.8 L192.1 613.5 Z" fill="url(#pgc)"/>
<path d="M87.7 590.5 L100.1 592.4 L111.6 597.0 L120.8 601.6 L135.1 602.5 L146.6 602.5 L152.6 604.8 L156.7 610.3 L149.8 621.8 L113.0 621.8 L85.4 598.8 Z" fill="url(#pgc)"/>
<path d="M171.4 602.0 L179.7 599.7 L186.6 604.3 L193.5 605.2 L202.2 602.5 L200.4 617.2 L170.5 612.6 Z" fill="url(#pgs2)"/>
<path d="M314.5 595.1 L322.3 594.2 L327.4 600.6 L320.9 604.3 L315.4 602.0 Z" fill="url(#pgc)" opacity="0.7"/>
<path d="M385.8 690.8 L391.8 706.4 L389.0 713.8 L386.7 723.0 L382.1 734.5 L377.5 748.3 L368.8 748.3 L370.1 741.4 L372.4 734.5 L375.7 727.6 L378.9 720.2 L381.6 712.9 L383.9 704.6 L382.6 697.7 Z" fill="url(#pgc)" opacity="0.8"/>
</g>
<path d="M209.6 663.2 L246.4 663.2 L274.0 663.2 L292.4 672.4 L283.2 690.8 L246.4 690.8 L218.8 681.6 Z" fill="url(#pwa)" opacity="0.3"/>
</g>
<use href="#base2" transform="translate(0.0,418.4)"/>
<line x1="155.0" y1="448.6" x2="155.0" y2="818.3" stroke="#000" stroke-opacity="0.62" stroke-width="1.3" stroke-dasharray="4.23 2.1" stroke-dashoffset="-0.5"/>
<line x1="316.0" y1="448.6" x2="316.0" y2="818.3" stroke="#000" stroke-opacity="0.62" stroke-width="1.3" stroke-dasharray="4.23 2.1" stroke-dashoffset="-0.5"/>
<line x1="60.0" y1="477.4" x2="432.0" y2="477.4" stroke="#000" stroke-opacity="0.62" stroke-width="1.3" stroke-dasharray="4.23 2.1" stroke-dashoffset="-0.5"/>
<line x1="60.0" y1="636.0" x2="432.0" y2="636.0" stroke="#000" stroke-opacity="0.62" stroke-width="1.3" stroke-dasharray="4.23 2.1" stroke-dashoffset="-0.5"/>
<line x1="60.0" y1="794.5" x2="432.0" y2="794.5" stroke="#000" stroke-opacity="0.62" stroke-width="1.3" stroke-dasharray="4.23 2.1" stroke-dashoffset="-0.5"/>
<rect x="61.0" y="449.6" width="370.0" height="367.7" fill="none" stroke="#66DCF4" stroke-width="1" stroke-opacity="0.8"/>
</g>
<rect x="60.0" y="448.6" width="372.0" height="369.7" fill="none" stroke="#4a5a60" stroke-width="1"/>
<g stroke="#000" stroke-width="0.55" stroke-linejoin="miter"><polygon points="129.5,318.8 129.5,296.3 126.1,315.4" fill="none"/><polygon points="129.5,318.8 152.2,318.8 132.9,315.4" fill="none"/><polygon points="129.5,318.8 129.5,341.3 132.9,322.2" fill="none"/><polygon points="129.5,318.8 106.8,318.8 126.1,322.2" fill="none"/><polygon points="129.5,318.8 129.5,296.3 132.9,315.4" fill="#000"/><polygon points="129.5,318.8 152.2,318.8 132.9,322.2" fill="#000"/><polygon points="129.5,318.8 129.5,341.3 126.1,322.2" fill="#000"/><polygon points="129.5,318.8 106.8,318.8 126.1,315.4" fill="#000"/></g><text x="129.7" y="292.2" style="font-family:'Liberation Serif', 'Times New Roman', serif" font-size="11" text-anchor="middle">N</text>
<rect x="67.6" y="363.9" width="135" height="6.6" fill="#000"/><rect x="83.7" y="365.4" width="14.3" height="3.6" fill="#6ED6EE"/><rect x="113.3" y="365.4" width="44.0" height="3.6" fill="#6ED6EE"/><text x="68.1" y="358.6" font-size="11.5" text-anchor="middle">0</text><text x="113.3" y="358.6" font-size="11.5" text-anchor="middle">1,000</text><text x="157.3" y="358.6" font-size="11.5" text-anchor="middle">2,000</text><text x="201.6" y="358.6" font-size="11.5" text-anchor="middle">3,000</text><text x="205.2" y="369.7" font-size="11.5">km</text>
<g stroke="#000" stroke-width="0.55" stroke-linejoin="miter"><polygon points="562.8,317.6 562.8,295.1 559.4,314.2" fill="none"/><polygon points="562.8,317.6 585.5,317.6 566.2,314.2" fill="none"/><polygon points="562.8,317.6 562.8,340.1 566.2,321.0" fill="none"/><polygon points="562.8,317.6 540.1,317.6 559.4,321.0" fill="none"/><polygon points="562.8,317.6 562.8,295.1 566.2,314.2" fill="#000"/><polygon points="562.8,317.6 585.5,317.6 566.2,321.0" fill="#000"/><polygon points="562.8,317.6 562.8,340.1 559.4,321.0" fill="#000"/><polygon points="562.8,317.6 540.1,317.6 559.4,314.2" fill="#000"/></g><text x="563.0" y="291.0" style="font-family:'Liberation Serif', 'Times New Roman', serif" font-size="11" text-anchor="middle">N</text>
<rect x="500.9" y="362.7" width="135" height="6.6" fill="#000"/><rect x="517.0" y="364.2" width="14.3" height="3.6" fill="#6ED6EE"/><rect x="546.6" y="364.2" width="44.0" height="3.6" fill="#6ED6EE"/><text x="501.4" y="357.4" font-size="11.5" text-anchor="middle">0</text><text x="546.6" y="357.4" font-size="11.5" text-anchor="middle">1,000</text><text x="590.6" y="357.4" font-size="11.5" text-anchor="middle">2,000</text><text x="634.9" y="357.4" font-size="11.5" text-anchor="middle">3,000</text><text x="638.5" y="368.5" font-size="11.5">km</text>
<g stroke="#000" stroke-width="0.55" stroke-linejoin="miter"><polygon points="129.5,735.7 129.5,713.2 126.1,732.3" fill="none"/><polygon points="129.5,735.7 152.2,735.7 132.9,732.3" fill="none"/><polygon points="129.5,735.7 129.5,758.2 132.9,739.1" fill="none"/><polygon points="129.5,735.7 106.8,735.7 126.1,739.1" fill="none"/><polygon points="129.5,735.7 129.5,713.2 132.9,732.3" fill="#000"/><polygon points="129.5,735.7 152.2,735.7 132.9,739.1" fill="#000"/><polygon points="129.5,735.7 129.5,758.2 126.1,739.1" fill="#000"/><polygon points="129.5,735.7 106.8,735.7 126.1,732.3" fill="#000"/></g><text x="129.7" y="709.1" style="font-family:'Liberation Serif', 'Times New Roman', serif" font-size="11" text-anchor="middle">N</text>
<rect x="67.6" y="780.8" width="135" height="6.6" fill="#000"/><rect x="83.7" y="782.3" width="14.3" height="3.6" fill="#6ED6EE"/><rect x="113.3" y="782.3" width="44.0" height="3.6" fill="#6ED6EE"/><text x="68.1" y="775.5" font-size="11.5" text-anchor="middle">0</text><text x="113.3" y="775.5" font-size="11.5" text-anchor="middle">1,000</text><text x="157.3" y="775.5" font-size="11.5" text-anchor="middle">2,000</text><text x="201.6" y="775.5" font-size="11.5" text-anchor="middle">3,000</text><text x="205.2" y="786.6" font-size="11.5">km</text>
<text x="145.9" y="24.2" font-size="16.7">MODIS LAI minus GLASS LAI</text>
<text x="558.8" y="24.3" font-size="16.85">MODIS LAI minus CYCLOPES LAI</text>
<text x="142.2" y="441.9" font-size="16.7">MODIS LAI minus GEOV1 LAI</text>
<text x="53.2" y="63.6" font-size="15.0" text-anchor="end">35°N</text><text x="54.7" y="223.7" font-size="15.0" text-anchor="end">0°</text><text x="53.2" y="381.8" font-size="15.0" text-anchor="end">35°S</text><text x="155.0" y="421.0" font-size="15.0" text-anchor="middle">0°</text><text x="316.0" y="421.0" font-size="15.0" text-anchor="middle">35°E</text>
<text x="486.1" y="63.6" font-size="15.0" text-anchor="end">35°N</text><text x="487.6" y="223.7" font-size="15.0" text-anchor="end">0°</text><text x="486.1" y="381.8" font-size="15.0" text-anchor="end">35°S</text><text x="587.7" y="420.6" font-size="15.0" text-anchor="middle">0°</text><text x="748.7" y="420.6" font-size="15.0" text-anchor="middle">35°E</text>
<text x="53.2" y="482.0" font-size="15.0" text-anchor="end">35°N</text><text x="54.7" y="642.1" font-size="15.0" text-anchor="end">0°</text><text x="53.2" y="800.2" font-size="15.0" text-anchor="end">35°S</text><text x="155.0" y="839.7" font-size="15.0" text-anchor="middle">0°</text><text x="316.0" y="839.7" font-size="15.0" text-anchor="middle">35°E</text><text x="222.3" y="839.7" font-size="15.0" style="fill:#ff0000;stroke:#ff0000">20°E</text><text x="262.1" y="839.7" font-size="15.0" style="fill:#ff0000;stroke:#ff0000">25°E</text>
<line x1="249.2" y1="449" x2="249.2" y2="818" stroke="#f03040" stroke-width="1.3" stroke-dasharray="3.5 2.5"/>
<line x1="272.4" y1="449" x2="272.4" y2="818" stroke="#f03040" stroke-width="1.3" stroke-dasharray="3.5 2.5"/>
<text x="12.2" y="421.4" font-size="31.6">(a)</text>
<text x="446.4" y="421.4" font-size="31.6">(b)</text>
<text x="12.2" y="837.6" font-size="31.6">(c)</text>
<text x="446.4" y="837.3" font-size="31.6">(d)</text>
<rect x="879.0" y="35.80" width="29.5" height="26.27" fill="#0A8E45"/><text x="915.2" y="53.3" font-size="14.4">&gt;2</text><rect x="879.0" y="61.77" width="29.5" height="26.27" fill="#00B552"/><text x="915.2" y="79.3" font-size="14.4">1.5-2</text><rect x="879.0" y="87.74" width="29.5" height="26.27" fill="#8DD35C"/><text x="915.2" y="105.2" font-size="14.4">1-1.5</text><rect x="879.0" y="113.71" width="29.5" height="26.27" fill="#D3EA8E"/><text x="915.2" y="131.2" font-size="14.4">0.5-1</text><rect x="879.0" y="139.68" width="29.5" height="26.27" fill="#FFFEC6"/><text x="915.2" y="157.2" font-size="14.4">-0.5-0.5</text><rect x="879.0" y="165.65" width="29.5" height="26.27" fill="#FFD985"/><text x="915.2" y="183.1" font-size="14.4">-1--0.5</text><rect x="879.0" y="191.62" width="29.5" height="26.27" fill="#FFA65A"/><text x="915.2" y="209.1" font-size="14.4">-1.5--1</text><rect x="879.0" y="217.59" width="29.5" height="26.27" fill="#FF6A3C"/><text x="915.2" y="235.1" font-size="14.4">-2--1.5</text><rect x="879.0" y="243.56" width="29.5" height="26.27" fill="#FF2A22"/><text x="915.2" y="261.0" font-size="14.4">&lt;-2</text><rect x="879.0" y="269.53" width="29.5" height="26.27" fill="#FFFFFF"/><text x="915.2" y="287.0" font-size="14.4">No Veg</text><rect x="879.0" y="295.50" width="29.5" height="26.27" fill="#FFFF00"/><text x="915.2" y="313.0" font-size="14.4">Both no data</text><rect x="879.0" y="321.47" width="29.5" height="26.27" fill="#0000FF"/><text x="915.2" y="339.0" font-size="14.4">Other no data</text><rect x="879.0" y="347.44" width="29.5" height="26.27" fill="#000000"/><text x="915.2" y="364.9" font-size="14.4">MODIS no data</text><rect x="879.0" y="373.41" width="29.5" height="26.27" fill="#55C9E7"/><text x="915.2" y="390.9" font-size="14.4">Water</text><rect x="879.0" y="35.8" width="29.5" height="363.6" fill="none" stroke="#555" stroke-width="0.9"/>
<line x1="596.8" y1="453.9" x2="596.8" y2="817.0" stroke="#cfcfcf" stroke-width="0.8" stroke-dasharray="2 3"/>
<line x1="626.9" y1="453.9" x2="626.9" y2="817.0" stroke="#cfcfcf" stroke-width="0.8" stroke-dasharray="2 3"/>
<line x1="657.0" y1="453.9" x2="657.0" y2="817.0" stroke="#cfcfcf" stroke-width="0.8" stroke-dasharray="2 3"/>
<line x1="687.2" y1="453.9" x2="687.2" y2="817.0" stroke="#cfcfcf" stroke-width="0.8" stroke-dasharray="2 3"/>
<line x1="717.4" y1="453.9" x2="717.4" y2="817.0" stroke="#cfcfcf" stroke-width="0.8" stroke-dasharray="2 3"/>
<line x1="747.5" y1="453.9" x2="747.5" y2="817.0" stroke="#cfcfcf" stroke-width="0.8" stroke-dasharray="2 3"/>
<line x1="566.6" y1="476.4" x2="777.6" y2="476.4" stroke="#9a9ab8" stroke-width="1.3"/>
<line x1="566.6" y1="497.1" x2="777.6" y2="497.1" stroke="#9a9ab8" stroke-width="1.3"/>
<line x1="566.6" y1="576.5" x2="777.6" y2="576.5" stroke="#9a9ab8" stroke-width="1.3"/>
<line x1="566.6" y1="594.2" x2="777.6" y2="594.2" stroke="#9a9ab8" stroke-width="1.3"/>
<line x1="566.6" y1="614.8" x2="777.6" y2="614.8" stroke="#9a9ab8" stroke-width="1.3"/>
<line x1="566.6" y1="648.8" x2="777.6" y2="648.8" stroke="#9a9ab8" stroke-width="1.3"/>
<line x1="566.6" y1="676.3" x2="777.6" y2="676.3" stroke="#9a9ab8" stroke-width="1.3"/>
<line x1="566.6" y1="725.3" x2="777.6" y2="725.3" stroke="#9a9ab8" stroke-width="1.3"/>
<line x1="566.6" y1="733.0" x2="777.6" y2="733.0" stroke="#9a9ab8" stroke-width="1.3"/>
<line x1="566.6" y1="749.1" x2="777.6" y2="749.1" stroke="#9a9ab8" stroke-width="1.3"/>
<line x1="566.6" y1="772.0" x2="777.6" y2="772.0" stroke="#9a9ab8" stroke-width="1.3"/>
<line x1="566.6" y1="785.4" x2="777.6" y2="785.4" stroke="#9a9ab8" stroke-width="1.3"/>
<line x1="566.6" y1="794.3" x2="777.6" y2="794.3" stroke="#9a9ab8" stroke-width="1.3"/>
<polyline points="577.5,561.5 576.4,563.2 576.5,565.0 577.2,567.0 576.8,569.0 577.8,570.7 577.5,572.3 578.5,574.0 579.6,575.4 580.6,576.8 582.0,578.1 583.3,579.5 583.9,580.9 584.7,581.8 586.1,582.7 588.9,583.6 589.7,584.4 591.7,585.3 591.9,586.2 594.2,587.1 595.7,587.8 597.7,588.5 598.4,589.2 601.1,589.8 602.6,590.5 602.8,591.2 605.1,591.9 606.1,592.4 608.7,592.9 611.1,593.4 611.9,593.8 613.4,594.3 615.5,594.8 617.4,595.3 618.0,596.4 619.7,597.6 621.5,598.7 621.9,600.0 623.3,600.9 624.9,601.7 625.9,602.6 627.4,603.5 628.9,604.3 630.8,605.2 632.0,606.0 633.8,606.9 635.5,608.2 636.3,608.6 639.2,608.9 640.4,609.2 642.1,609.6 643.0,609.9 645.1,610.3 647.5,610.6 649.0,611.0 649.4,611.3 651.4,611.7 653.7,612.0 655.3,612.3 657.3,612.7 658.1,613.0 660.4,613.4 661.5,613.7 663.5,613.9 664.6,614.0 666.8,614.2 668.9,614.4 670.6,614.5 671.8,614.7 673.6,614.9 674.4,615.0 676.5,615.2 679.1,615.4 680.2,615.5 682.0,615.7 683.2,615.9 685.4,616.0 687.4,616.2 689.0,616.3 690.2,616.5 692.0,616.7 693.8,616.8 695.9,617.0 697.2,617.2 698.7,617.3 700.5,617.5 701.5,617.6 703.9,617.8 704.8,618.1 707.6,618.4 709.7,618.7 710.8,619.0 712.1,619.3 713.4,619.6 715.6,619.9 718.1,620.2 719.0,620.5 721.1,620.9 722.5,621.4 724.7,621.8 725.4,622.2 727.5,622.6 729.9,623.0 731.0,623.5 732.6,623.9 730.7,624.2 728.6,624.6 727.2,625.0 726.1,625.3 722.7,625.6 721.7,626.0 723.5,627.0 725.0,628.0 726.4,629.1 727.2,630.1 726.7,631.9 725.8,633.7 724.4,635.5 723.4,636.9 722.4,638.2 721.2,639.6 720.3,641.0 718.2,642.4 718.2,643.7 716.2,645.1 717.0,646.7 717.1,648.3 718.3,649.9 716.7,650.3 715.1,650.7 713.3,651.0 711.7,651.4 710.4,651.8 708.9,652.2 707.3,652.5 705.4,652.9 703.9,653.3 702.2,654.7 701.7,656.0 701.2,657.4 699.0,657.6 698.1,657.8 696.9,658.0 695.1,658.2 693.5,658.5 691.9,658.7 689.3,658.9 688.6,659.1 686.7,659.3 684.8,659.5 682.5,659.6 680.7,659.8 679.0,660.0 678.5,660.1 676.0,660.2 674.1,660.4 673.3,660.6 671.2,660.7 669.1,660.9 667.5,661.0 666.4,661.1 664.2,661.3 662.7,661.5 661.7,661.6 659.6,661.8 657.8,661.9 656.3,662.1 654.7,662.2 652.2,662.3 651.1,662.4 649.4,662.5 647.4,662.5 645.5,662.6 645.1,662.7 642.7,662.8 641.0,662.9 638.9,663.6 638.0,664.2 636.2,664.9 635.0,665.1 632.0,665.4 630.3,665.6 628.8,665.8 628.0,666.1 625.4,666.3 624.5,666.6 622.5,666.8 621.5,668.3 623.4,668.8 624.8,669.3 626.4,669.8 624.0,670.4 623.2,671.1 620.5,671.7 620.6,673.3 619.8,674.8 618.9,676.4 619.2,677.9 618.6,679.5 619.9,681.0 621.5,682.5 620.5,685.4 618.9,685.8 616.8,686.2 615.6,686.7 613.0,687.1 611.7,687.5 611.0,687.9 609.2,688.4 606.9,688.8 608.2,689.3 610.6,689.8 611.3,690.3 613.8,690.8 615.1,691.2 616.1,691.7 617.4,692.2 618.6,692.7 621.5,693.2 622.5,693.7 620.3,694.4 620.1,695.0 618.8,695.7 616.7,696.3 614.6,697.0 613.7,697.6 613.1,698.7 612.0,699.8 610.4,700.9 608.8,702.0 607.7,703.4 606.3,704.7 605.1,706.1 603.7,707.4 603.0,708.8 602.5,711.8 601.9,713.4 600.7,715.0 600.0,716.6 599.2,718.2 598.7,719.9 599.0,721.5 597.9,722.5 596.0,723.5 594.9,724.4 593.3,725.4 592.2,726.4 591.8,727.7 590.9,729.0 589.3,730.3 587.3,732.2 586.9,734.1 585.6,735.7 585.0,737.4 584.5,739.0 584.1,740.2 582.5,741.5 580.6,742.7 579.6,743.9 578.6,745.5 578.7,747.2 577.9,748.8 578.2,750.7 578.1,752.6 577.1,754.5 576.7,756.1 577.3,757.8 576.8,759.4 576.3,761.0 575.8,762.6 576.1,764.3 574.4,765.9 574.7,767.6 573.9,769.2 573.0,770.8 572.9,772.5 573.9,774.1 573.0,775.7 573.0,777.3 574.3,779.0 574.4,780.6 574.7,782.2 573.6,783.4 571.4,784.6 572.8,785.9 574.7,787.1 576.1,787.4 577.6,787.7 580.1,788.1 581.3,788.4 582.8,788.7 585.2,788.8 586.7,789.0 587.2,789.1 589.5,789.2 590.4,789.4 592.0,789.5 593.7,789.7 596.0,789.8 594.6,790.3 592.5,790.7 590.0,791.2 588.4,791.4 585.5,791.6 583.7,791.8" fill="none" stroke="#ff0000" stroke-width="1.5" stroke-linejoin="round"/>
<polyline points="575.0,489.5 581.0,487.0" fill="none" stroke="#ff0000" stroke-width="1.6"/>
<polyline points="567.6,491.7 568.3,490.1 569.0,488.5 571.4,488.1 573.0,487.7 574.0,487.3 575.0,487.1 576.8,486.9 579.8,486.8 581.3,486.6 582.7,486.4 581.3,486.9 579.0,487.4 577.8,488.0 576.0,488.5 574.2,488.9 572.1,489.4 570.0,489.8 568.9,491.1 567.8,492.5 567.8,494.4 567.7,496.2 567.6,498.1 567.6,500.0 567.6,501.6 567.6,503.2 567.6,504.9 567.6,506.5 567.6,508.1 567.6,509.7 567.6,511.3 567.6,513.0 567.6,514.6 567.6,516.2 567.6,517.8 567.6,519.5 567.6,521.1 567.6,522.7 567.6,524.3 567.6,525.9 567.6,527.6 567.6,529.2 567.6,530.8 567.6,532.4 567.6,534.0 567.6,535.7 567.6,537.3 567.6,538.9 567.6,540.5 567.6,542.1 567.6,543.8 567.6,545.4 567.6,547.0 567.6,548.6 567.6,550.3 567.6,551.9 567.6,553.5 567.6,555.1 567.6,556.7 567.6,558.4 567.6,560.0 567.6,561.6 568.7,563.1 569.3,564.5 571.0,566.0 571.8,567.3 572.6,568.7 573.7,570.0 575.1,571.4 576.5,572.8 577.5,574.1 577.8,575.5 579.1,576.6 580.2,577.7 581.1,578.7 581.9,579.8 583.9,580.9 584.6,581.8 586.8,582.7 588.0,583.6 589.6,584.4 591.9,585.3 592.8,586.2 594.2,587.1 595.9,587.8 596.9,588.5 598.1,589.2 600.1,589.8 601.4,590.5 603.6,591.2 605.1,591.9 607.7,592.4 608.9,592.9 609.9,593.4 612.8,593.8 614.4,594.3 616.0,594.8 617.4,595.3 619.7,595.6 621.0,596.0 622.7,596.3 623.6,596.6 626.2,597.0 627.0,597.3 629.2,598.6 630.0,600.0 631.0,601.0 633.4,601.9 634.8,602.9 635.9,603.8 637.5,604.8 639.0,605.7 641.2,606.6 642.0,607.6 643.6,608.2 645.1,608.9 647.3,609.2 648.2,609.5 650.7,609.8 652.5,610.1 653.4,610.4 655.3,610.7 657.5,611.0 658.9,611.3 660.2,611.6 661.5,613.7 663.1,613.9 664.3,614.1 666.1,614.3 668.3,614.6 669.1,614.8 671.9,615.0 672.5,615.2 675.2,615.4 675.8,615.6 678.5,615.8 679.7,616.0 681.0,616.2 682.7,616.5 684.5,616.7 686.0,616.9 687.5,617.1 688.8,617.5 690.3,617.9 692.4,618.3 694.8,618.7 695.9,619.1 696.7,619.5 699.5,619.9 701.0,620.4 702.9,620.8 703.4,621.2 705.9,621.6 706.5,622.0 709.1,622.4 710.1,622.8 712.1,623.2 710.1,623.7 709.5,624.1 706.7,624.6 705.7,625.1 704.7,625.5 702.5,626.0 703.7,625.9 705.3,625.7 708.0,625.6 708.9,625.4 710.7,625.3 711.7,626.8 711.4,628.3 712.6,629.9 713.5,631.4 713.8,632.8 715.5,634.1 715.4,635.5 716.9,636.9 716.8,638.6 714.4,640.3 714.7,642.1 713.5,643.8 711.8,645.6 711.2,647.4 710.7,649.2 709.6,649.6 706.9,650.0 705.3,650.4 704.4,650.8 702.3,651.2 700.1,651.7 700.0,652.1 697.0,652.5 695.2,652.9 694.3,653.3 692.7,654.7 691.8,656.0 690.2,657.4 688.9,657.6 686.2,657.8 684.9,658.0 682.7,658.3 681.7,658.5 680.6,658.7 678.8,658.9 677.4,659.1 675.5,659.3 674.0,659.6 672.1,659.8 670.0,660.0 668.4,660.2 666.3,660.5 665.3,660.7 663.1,661.0 661.0,661.2 660.0,661.5 658.1,661.8 656.9,662.1 653.9,662.3 652.8,662.6 650.8,662.9 649.2,664.1 647.9,665.4 646.3,665.7 644.1,666.0 643.7,666.3 641.0,666.7 639.9,667.0 638.1,667.3 639.9,668.3 642.0,669.3 639.6,670.4 638.8,671.6 637.1,672.7 635.8,674.2 634.9,675.7 634.2,677.1 634.2,678.6 635.3,679.7 636.8,680.9 639.1,682.0 637.9,683.7 636.2,685.4 634.6,685.7 633.8,686.0 632.1,686.3 630.6,686.6 627.8,686.9 626.5,687.3 624.6,687.6 623.5,687.9 622.0,688.2 620.7,688.5 618.6,688.8 620.6,689.4 621.6,690.1 623.5,690.7 625.3,691.3 626.2,691.9 627.9,692.6 630.3,693.2 628.5,694.1 626.3,694.9 625.6,695.8 623.5,696.6 625.4,699.1 623.3,699.7 621.4,700.2 619.9,700.8 618.3,701.3 616.6,701.9 615.4,702.4 613.7,703.0 612.4,704.1 610.9,705.2 610.2,706.3 608.2,707.5 608.1,708.6 606.9,709.7 604.9,710.8 605.5,712.8 605.4,714.7 603.5,715.7 601.8,716.6 600.0,717.6 599.6,719.5 599.0,721.5 596.9,722.3 596.1,723.2 594.9,724.0 592.9,724.9 591.4,725.7 591.2,726.6 589.3,727.4 588.3,730.3 587.4,732.2 586.9,734.1 586.1,735.7 586.0,737.4 584.5,739.0 583.5,740.2 581.7,741.5 581.6,742.7 579.6,743.9 578.8,745.5 577.7,747.2 577.9,748.8 577.9,750.7 576.7,752.6 577.1,754.5 576.6,756.1 577.2,757.8 576.8,759.4 576.3,761.0 575.0,762.6 575.3,764.3 574.7,765.9 574.4,767.6 573.9,769.2 573.2,770.8 573.6,772.5 572.5,774.1 573.0,775.7 573.1,777.3 573.6,779.0 575.0,780.6 574.7,782.2 572.4,783.4 571.4,784.6 573.5,785.9 574.7,787.1 575.8,787.4 578.1,787.7 579.4,788.1 581.1,788.4 582.8,788.7 584.8,788.7 585.9,788.8 587.1,788.8 588.7,788.9 590.3,788.9 593.2,789.0 594.5,789.0 596.6,789.1 597.8,789.1 598.4,789.2 601.0,789.2 602.8,789.3 604.4,789.3 605.7,789.4 607.1,789.4 608.9,789.5 611.0,789.5 611.8,789.6 613.9,789.6 615.4,789.7 617.8,789.7 619.2,789.8 621.1,789.8 622.5,789.9 623.3,789.9 624.8,790.0 626.9,790.0 625.2,790.1 623.2,790.2 621.9,790.3 620.7,790.4 619.4,790.5 617.2,790.6 616.0,790.7 613.2,790.8 612.0,790.9 611.4,791.0 608.4,791.0 607.2,791.1 605.0,791.2 603.4,791.3 603.0,791.4 601.5,791.5 599.4,791.6 596.9,791.7 595.5,791.8 593.8,791.9 592.6,792.0 591.0,792.4 589.1,792.8 586.9,793.2" fill="none" stroke="#00e000" stroke-width="1.5" stroke-linejoin="round"/>
<polyline points="567.4,492.0 567.4,493.6 567.4,495.2 567.4,496.8 567.4,498.4 567.4,500.0 567.4,501.6 567.4,503.2 567.4,504.8 567.4,506.4 567.4,508.0 567.4,509.7 567.4,511.3 567.4,512.9 567.4,514.5 567.4,516.1 567.4,517.7 567.4,519.3 567.4,520.9 567.4,522.5 567.4,524.1 567.4,525.7 567.4,527.3 567.4,528.9 567.4,530.5 567.4,532.1 567.4,533.7 567.4,535.3 567.4,536.9 567.4,538.5 567.4,540.1 567.4,541.7 567.4,543.3 567.4,545.0 567.4,546.6 567.4,548.2 567.4,549.8 567.4,551.4 567.4,553.0 567.4,554.6 567.4,556.2 567.4,557.8 567.4,559.4 567.4,561.0 567.9,562.7 568.5,564.3 569.0,566.0 569.6,567.7 571.1,569.3 572.0,571.0 572.9,572.3 574.5,573.6 575.6,574.9 575.9,576.1 576.9,577.4 579.4,578.7 580.0,580.0 580.9,581.0 582.1,582.0 584.5,583.0 585.0,584.0 586.8,585.0 587.5,586.0 589.0,587.0 590.0,588.0 591.0,588.9 593.4,589.7 595.3,590.6 596.3,591.4 598.2,592.3 599.7,593.1 601.0,594.0 602.0,594.3 604.8,594.7 606.3,595.0 607.5,595.4 608.8,595.7 611.9,596.0 612.9,596.4 614.7,596.7 616.5,597.8 618.2,598.9 619.1,600.0 620.8,601.1 622.5,602.3 623.0,603.4 625.0,604.5 625.8,605.7 627.3,606.8 629.4,607.9 630.6,609.0 630.8,610.1 632.2,611.1 633.7,612.2 636.3,613.3 636.9,614.4 638.4,615.0 640.3,615.5 641.4,616.1 643.4,616.6 644.8,617.2 646.4,617.7 648.4,618.3 650.0,618.8 652.1,619.4 653.4,619.9 654.7,620.5 656.9,621.1 658.2,621.8 659.9,622.4 660.9,623.0 661.6,623.7 663.6,624.3 662.6,624.6 661.1,624.8 659.4,625.1 657.2,625.3 655.8,625.6 653.4,625.9 652.8,626.1 650.6,626.4 652.3,626.8 653.5,627.2 654.7,627.5 657.6,627.9 659.4,628.3 660.2,628.7 659.2,630.4 660.0,632.1 659.0,633.8 658.8,635.5 657.7,637.0 657.4,638.6 657.7,640.1 657.3,641.7 655.5,643.2 655.9,644.8 654.5,646.4 654.7,647.9 653.4,648.8 651.2,649.7 650.5,650.6 649.1,651.5 646.7,652.4 645.1,653.3 646.6,655.0 646.5,656.7 644.6,657.1 642.6,657.5 641.9,657.9 639.4,658.3 638.0,658.7 636.8,659.1 635.5,659.5 633.1,659.9 631.4,660.3 631.1,660.7 628.6,661.1 627.3,661.5 626.8,662.6 625.5,663.7 623.4,664.8 622.4,665.9 621.2,667.0 620.7,668.5 620.4,670.0 619.8,671.6 619.2,673.1 618.6,674.6 617.8,675.9 617.4,677.3 615.7,678.6 615.7,680.5 615.6,682.5 615.7,684.4 614.5,685.0 612.2,685.7 610.8,686.3 610.3,686.9 608.0,687.5 606.5,688.2 604.9,688.8 605.6,689.9 607.7,691.0 609.5,692.1 610.8,693.2 609.1,694.7 609.1,696.1 607.9,697.6 609.6,698.8 610.8,700.0 608.6,700.7 608.1,701.5 606.3,702.2 605.2,702.9 603.2,703.7 602.3,704.4 600.9,705.1 598.3,705.9 596.9,706.6 596.4,707.3 595.4,708.1 593.2,708.8 591.9,710.8 591.3,712.7 590.6,714.7 590.1,716.6 589.3,718.6 587.9,719.9 586.9,721.1 585.7,722.4 584.6,723.6 583.9,724.9 582.3,726.1 581.5,727.4 580.7,728.9 580.8,730.5 579.1,732.0 579.4,733.5 579.1,735.0 577.9,736.6 577.6,738.1 576.3,739.8 576.3,741.4 574.5,743.1 574.0,744.7 572.8,746.6 572.6,748.5 572.0,750.4 572.3,752.2 571.4,753.9 571.7,755.7 571.7,757.5 572.5,759.2 572.0,761.0 571.6,762.6 572.0,764.3 570.7,765.9 570.7,767.5 570.9,769.2 570.4,770.8 570.9,772.4 570.2,774.0 569.7,775.7 569.5,777.3 570.0,778.9 571.0,780.5 572.0,782.2 570.4,784.6 571.2,785.9 573.0,787.1 575.2,787.6 577.0,788.0 577.7,788.5 580.0,789.0 581.3,790.0 583.8,791.0 585.0,792.0 583.6,792.6 582.2,793.2 580.0,793.8" fill="none" stroke="#9c9cf6" stroke-width="1.0" stroke-linejoin="round"/>
<polyline points="582.7,486.4 580.4,486.7 578.3,486.9 576.8,487.2 575.0,487.5 572.9,487.8 571.1,488.2 570.0,488.5 568.8,490.1 567.5,491.7 567.5,493.3 567.5,495.0 567.5,496.6 567.5,498.2 567.5,499.8 567.5,501.5 567.5,503.1 567.5,504.7 567.5,506.3 567.5,508.0 567.5,509.6 567.5,511.2 567.5,512.8 567.5,514.5 567.5,516.1 567.5,517.7 567.5,519.3 567.5,521.0 567.5,522.6 567.5,524.2 567.5,525.8 567.5,527.5 567.5,529.1 567.5,530.7 567.5,532.3 567.5,534.0 567.5,535.6 567.5,537.2 567.5,538.8 567.5,540.5 567.5,542.1 567.5,543.7 567.5,545.3 567.5,547.0 567.5,548.6 567.5,550.2 567.5,551.8 567.5,553.5 567.5,555.1 567.5,556.7 567.5,558.3 567.5,560.0 567.5,561.6 568.2,563.8 569.0,566.0 569.9,568.0 571.0,570.0 572.5,571.3 573.2,572.7 573.7,574.0 575.4,575.2 576.0,576.3 577.9,577.5 578.9,578.7 580.1,579.8 581.9,581.0 582.7,582.0 584.2,583.0 586.6,584.0 587.8,585.1 589.2,586.1 590.5,587.1 591.0,588.1 592.6,589.1 594.4,590.2 595.9,591.2 597.4,592.2 598.3,593.2 600.4,593.4 600.9,593.7 603.2,593.9 604.9,594.1 606.3,594.4 607.4,594.6 609.4,594.8 610.5,595.1 613.2,595.3 614.7,595.5 615.9,595.8 617.4,596.0 618.7,596.4 621.1,596.8 622.2,597.2 624.2,597.5 625.7,597.9 626.8,598.3 628.4,598.7 630.0,600.0 631.4,600.6 633.2,601.2 634.5,601.8 635.7,602.4 637.4,603.1 639.6,603.7 640.1,604.3 641.6,604.9 643.8,605.5 645.3,606.5 646.2,607.5 647.9,608.6 649.2,609.6 650.4,610.6 652.7,611.7 652.9,612.7 654.7,613.7 656.3,614.0 657.7,614.2 659.9,614.5 661.1,614.7 662.9,615.0 665.2,615.3 666.2,615.5 668.3,615.8 670.4,616.1 671.0,616.3 672.6,616.6 674.5,616.8 676.6,617.1 678.6,617.7 679.9,618.2 681.0,618.8 682.7,619.4 684.1,619.9 686.1,620.5 687.1,621.1 689.6,621.6 691.5,622.2 693.2,622.8 694.4,623.3 695.7,623.9 694.6,624.2 691.6,624.4 690.3,624.7 689.5,625.0 687.5,625.2 685.3,625.5 684.3,625.7 682.0,626.0 683.7,626.9 685.6,627.7 686.4,628.6 687.9,629.5 689.8,630.4 690.9,631.2 693.0,632.1 691.7,633.3 691.4,634.6 689.5,635.8 687.9,637.1 687.5,638.3 685.8,639.7 685.0,641.0 684.8,642.4 683.4,643.8 682.7,645.8 682.2,647.9 682.0,649.9 679.7,650.2 679.3,650.5 676.8,650.8 674.8,651.0 672.8,651.3 671.1,651.6 669.6,651.9 668.6,652.2 666.1,652.4 664.3,652.7 663.2,653.0 661.5,653.3 662.5,654.4 664.9,655.6 665.6,656.7 663.4,657.0 662.4,657.2 661.1,657.5 658.9,657.8 658.1,658.1 655.7,658.3 653.8,658.6 652.4,658.9 650.2,659.2 649.1,659.4 647.2,659.7 646.5,660.0 644.7,660.3 642.6,660.5 641.0,660.8 638.6,661.3 637.1,661.8 635.3,662.3 633.5,662.9 631.7,663.4 630.3,663.9 629.5,665.2 627.2,666.5 626.4,667.8 627.2,668.5 629.9,669.2 630.9,670.0 632.3,670.7 631.7,671.9 629.6,673.0 629.0,674.2 627.3,675.3 626.2,676.5 624.5,677.6 624.8,679.2 624.5,680.9 624.5,682.5 622.6,683.6 621.4,684.8 620.5,685.9 619.4,686.3 617.9,686.6 616.4,687.0 614.0,687.3 612.8,687.7 611.5,688.1 609.7,688.4 607.9,688.8 610.0,689.7 611.2,690.6 613.0,691.5 614.6,692.4 615.7,693.3 617.6,694.2 616.6,695.2 615.0,696.1 612.7,697.1 613.6,698.1 615.7,699.1 614.6,699.5 612.8,699.9 610.7,700.2 608.0,700.6 606.9,701.0 606.0,701.7 603.5,702.5 603.2,703.2 601.3,704.0 599.0,704.7 597.7,705.4 596.9,706.2 595.2,706.9 594.3,708.8 593.2,710.8 594.5,712.1 595.7,713.4 596.1,714.7 594.1,716.0 592.2,717.3 591.3,718.6 590.6,720.2 588.0,721.9 587.3,723.5 586.4,724.5 583.9,725.5 583.4,726.4 581.5,727.4 581.2,729.1 580.6,730.8 579.4,732.5 578.6,734.2 578.9,735.8 577.8,737.4 578.0,739.0 577.2,740.4 575.7,741.9 575.5,743.3 573.9,744.7 573.7,746.6 572.7,748.5 572.2,750.4 572.2,752.2 571.5,753.9 571.5,755.7 572.3,757.5 572.2,759.2 572.2,761.0 572.4,762.6 571.8,764.3 570.9,765.9 570.9,767.5 571.2,769.2 570.6,770.8 570.6,772.4 569.8,774.0 570.8,775.7 570.7,777.3 570.2,778.9 570.6,780.5 572.2,782.2 570.6,784.6 571.9,785.9 573.0,787.1 574.5,787.4 576.7,787.6 577.6,787.9 579.2,788.2 581.1,788.4 582.8,788.7 585.2,788.8 585.6,789.0 587.4,789.1 589.8,789.3 591.8,789.4 593.0,789.5 594.6,789.7 596.9,789.8 598.5,790.0 599.2,790.1 602.0,790.3 603.2,790.4 601.1,790.7 599.5,790.9 598.6,791.2 596.3,791.5 595.1,791.7 592.5,792.0 591.8,792.3 589.1,792.5 587.4,792.8 586.2,793.1 584.3,793.3 582.8,793.6 580.4,794.4" fill="none" stroke="#000" stroke-width="1.2" stroke-dasharray="1.2 1.0" stroke-linejoin="round"/>
<rect x="566.6" y="453.9" width="211.0" height="363.1" fill="none" stroke="#555" stroke-width="1.4"/>
<line x1="596.8" y1="453.9" x2="596.8" y2="456.9" stroke="#555" stroke-width="1"/>
<line x1="596.8" y1="817.0" x2="596.8" y2="814.0" stroke="#555" stroke-width="1"/>
<line x1="626.9" y1="453.9" x2="626.9" y2="456.9" stroke="#555" stroke-width="1"/>
<line x1="626.9" y1="817.0" x2="626.9" y2="814.0" stroke="#555" stroke-width="1"/>
<line x1="657.0" y1="453.9" x2="657.0" y2="456.9" stroke="#555" stroke-width="1"/>
<line x1="657.0" y1="817.0" x2="657.0" y2="814.0" stroke="#555" stroke-width="1"/>
<line x1="687.2" y1="453.9" x2="687.2" y2="456.9" stroke="#555" stroke-width="1"/>
<line x1="687.2" y1="817.0" x2="687.2" y2="814.0" stroke="#555" stroke-width="1"/>
<line x1="717.4" y1="453.9" x2="717.4" y2="456.9" stroke="#555" stroke-width="1"/>
<line x1="717.4" y1="817.0" x2="717.4" y2="814.0" stroke="#555" stroke-width="1"/>
<line x1="747.5" y1="453.9" x2="747.5" y2="456.9" stroke="#555" stroke-width="1"/>
<line x1="747.5" y1="817.0" x2="747.5" y2="814.0" stroke="#555" stroke-width="1"/>
<line x1="566.6" y1="817.0" x2="570.1" y2="817.0" stroke="#555" stroke-width="0.9"/>
<line x1="777.6" y1="817.0" x2="774.1" y2="817.0" stroke="#555" stroke-width="0.9"/>
<line x1="566.6" y1="807.9" x2="568.6" y2="807.9" stroke="#555" stroke-width="0.9"/>
<line x1="777.6" y1="807.9" x2="775.6" y2="807.9" stroke="#555" stroke-width="0.9"/>
<line x1="566.6" y1="798.8" x2="568.6" y2="798.8" stroke="#555" stroke-width="0.9"/>
<line x1="777.6" y1="798.8" x2="775.6" y2="798.8" stroke="#555" stroke-width="0.9"/>
<line x1="566.6" y1="789.7" x2="568.6" y2="789.7" stroke="#555" stroke-width="0.9"/>
<line x1="777.6" y1="789.7" x2="775.6" y2="789.7" stroke="#555" stroke-width="0.9"/>
<line x1="566.6" y1="780.7" x2="568.6" y2="780.7" stroke="#555" stroke-width="0.9"/>
<line x1="777.6" y1="780.7" x2="775.6" y2="780.7" stroke="#555" stroke-width="0.9"/>
<line x1="566.6" y1="771.6" x2="570.1" y2="771.6" stroke="#555" stroke-width="0.9"/>
<line x1="777.6" y1="771.6" x2="774.1" y2="771.6" stroke="#555" stroke-width="0.9"/>
<line x1="566.6" y1="762.5" x2="568.6" y2="762.5" stroke="#555" stroke-width="0.9"/>
<line x1="777.6" y1="762.5" x2="775.6" y2="762.5" stroke="#555" stroke-width="0.9"/>
<line x1="566.6" y1="753.4" x2="568.6" y2="753.4" stroke="#555" stroke-width="0.9"/>
<line x1="777.6" y1="753.4" x2="775.6" y2="753.4" stroke="#555" stroke-width="0.9"/>
<line x1="566.6" y1="744.4" x2="568.6" y2="744.4" stroke="#555" stroke-width="0.9"/>
<line x1="777.6" y1="744.4" x2="775.6" y2="744.4" stroke="#555" stroke-width="0.9"/>
<line x1="566.6" y1="735.3" x2="568.6" y2="735.3" stroke="#555" stroke-width="0.9"/>
<line x1="777.6" y1="735.3" x2="775.6" y2="735.3" stroke="#555" stroke-width="0.9"/>
<line x1="566.6" y1="726.2" x2="570.1" y2="726.2" stroke="#555" stroke-width="0.9"/>
<line x1="777.6" y1="726.2" x2="774.1" y2="726.2" stroke="#555" stroke-width="0.9"/>
<line x1="566.6" y1="717.1" x2="568.6" y2="717.1" stroke="#555" stroke-width="0.9"/>
<line x1="777.6" y1="717.1" x2="775.6" y2="717.1" stroke="#555" stroke-width="0.9"/>
<line x1="566.6" y1="708.1" x2="568.6" y2="708.1" stroke="#555" stroke-width="0.9"/>
<line x1="777.6" y1="708.1" x2="775.6" y2="708.1" stroke="#555" stroke-width="0.9"/>
<line x1="566.6" y1="699.0" x2="568.6" y2="699.0" stroke="#555" stroke-width="0.9"/>
<line x1="777.6" y1="699.0" x2="775.6" y2="699.0" stroke="#555" stroke-width="0.9"/>
<line x1="566.6" y1="689.9" x2="568.6" y2="689.9" stroke="#555" stroke-width="0.9"/>
<line x1="777.6" y1="689.9" x2="775.6" y2="689.9" stroke="#555" stroke-width="0.9"/>
<line x1="566.6" y1="680.8" x2="570.1" y2="680.8" stroke="#555" stroke-width="0.9"/>
<line x1="777.6" y1="680.8" x2="774.1" y2="680.8" stroke="#555" stroke-width="0.9"/>
<line x1="566.6" y1="671.8" x2="568.6" y2="671.8" stroke="#555" stroke-width="0.9"/>
<line x1="777.6" y1="671.8" x2="775.6" y2="671.8" stroke="#555" stroke-width="0.9"/>
<line x1="566.6" y1="662.7" x2="568.6" y2="662.7" stroke="#555" stroke-width="0.9"/>
<line x1="777.6" y1="662.7" x2="775.6" y2="662.7" stroke="#555" stroke-width="0.9"/>
<line x1="566.6" y1="653.6" x2="568.6" y2="653.6" stroke="#555" stroke-width="0.9"/>
<line x1="777.6" y1="653.6" x2="775.6" y2="653.6" stroke="#555" stroke-width="0.9"/>
<line x1="566.6" y1="644.5" x2="568.6" y2="644.5" stroke="#555" stroke-width="0.9"/>
<line x1="777.6" y1="644.5" x2="775.6" y2="644.5" stroke="#555" stroke-width="0.9"/>
<line x1="566.6" y1="635.5" x2="570.1" y2="635.5" stroke="#555" stroke-width="0.9"/>
<line x1="777.6" y1="635.5" x2="774.1" y2="635.5" stroke="#555" stroke-width="0.9"/>
<line x1="566.6" y1="626.4" x2="568.6" y2="626.4" stroke="#555" stroke-width="0.9"/>
<line x1="777.6" y1="626.4" x2="775.6" y2="626.4" stroke="#555" stroke-width="0.9"/>
<line x1="566.6" y1="617.3" x2="568.6" y2="617.3" stroke="#555" stroke-width="0.9"/>
<line x1="777.6" y1="617.3" x2="775.6" y2="617.3" stroke="#555" stroke-width="0.9"/>
<line x1="566.6" y1="608.2" x2="568.6" y2="608.2" stroke="#555" stroke-width="0.9"/>
<line x1="777.6" y1="608.2" x2="775.6" y2="608.2" stroke="#555" stroke-width="0.9"/>
<line x1="566.6" y1="599.2" x2="568.6" y2="599.2" stroke="#555" stroke-width="0.9"/>
<line x1="777.6" y1="599.2" x2="775.6" y2="599.2" stroke="#555" stroke-width="0.9"/>
<line x1="566.6" y1="590.1" x2="570.1" y2="590.1" stroke="#555" stroke-width="0.9"/>
<line x1="777.6" y1="590.1" x2="774.1" y2="590.1" stroke="#555" stroke-width="0.9"/>
<line x1="566.6" y1="581.0" x2="568.6" y2="581.0" stroke="#555" stroke-width="0.9"/>
<line x1="777.6" y1="581.0" x2="775.6" y2="581.0" stroke="#555" stroke-width="0.9"/>
<line x1="566.6" y1="571.9" x2="568.6" y2="571.9" stroke="#555" stroke-width="0.9"/>
<line x1="777.6" y1="571.9" x2="775.6" y2="571.9" stroke="#555" stroke-width="0.9"/>
<line x1="566.6" y1="562.9" x2="568.6" y2="562.9" stroke="#555" stroke-width="0.9"/>
<line x1="777.6" y1="562.9" x2="775.6" y2="562.9" stroke="#555" stroke-width="0.9"/>
<line x1="566.6" y1="553.8" x2="568.6" y2="553.8" stroke="#555" stroke-width="0.9"/>
<line x1="777.6" y1="553.8" x2="775.6" y2="553.8" stroke="#555" stroke-width="0.9"/>
<line x1="566.6" y1="544.7" x2="570.1" y2="544.7" stroke="#555" stroke-width="0.9"/>
<line x1="777.6" y1="544.7" x2="774.1" y2="544.7" stroke="#555" stroke-width="0.9"/>
<line x1="566.6" y1="535.6" x2="568.6" y2="535.6" stroke="#555" stroke-width="0.9"/>
<line x1="777.6" y1="535.6" x2="775.6" y2="535.6" stroke="#555" stroke-width="0.9"/>
<line x1="566.6" y1="526.6" x2="568.6" y2="526.6" stroke="#555" stroke-width="0.9"/>
<line x1="777.6" y1="526.6" x2="775.6" y2="526.6" stroke="#555" stroke-width="0.9"/>
<line x1="566.6" y1="517.5" x2="568.6" y2="517.5" stroke="#555" stroke-width="0.9"/>
<line x1="777.6" y1="517.5" x2="775.6" y2="517.5" stroke="#555" stroke-width="0.9"/>
<line x1="566.6" y1="508.4" x2="568.6" y2="508.4" stroke="#555" stroke-width="0.9"/>
<line x1="777.6" y1="508.4" x2="775.6" y2="508.4" stroke="#555" stroke-width="0.9"/>
<line x1="566.6" y1="499.3" x2="570.1" y2="499.3" stroke="#555" stroke-width="0.9"/>
<line x1="777.6" y1="499.3" x2="774.1" y2="499.3" stroke="#555" stroke-width="0.9"/>
<line x1="566.6" y1="490.3" x2="568.6" y2="490.3" stroke="#555" stroke-width="0.9"/>
<line x1="777.6" y1="490.3" x2="775.6" y2="490.3" stroke="#555" stroke-width="0.9"/>
<line x1="566.6" y1="481.2" x2="568.6" y2="481.2" stroke="#555" stroke-width="0.9"/>
<line x1="777.6" y1="481.2" x2="775.6" y2="481.2" stroke="#555" stroke-width="0.9"/>
<line x1="566.6" y1="472.1" x2="568.6" y2="472.1" stroke="#555" stroke-width="0.9"/>
<line x1="777.6" y1="472.1" x2="775.6" y2="472.1" stroke="#555" stroke-width="0.9"/>
<line x1="566.6" y1="463.0" x2="568.6" y2="463.0" stroke="#555" stroke-width="0.9"/>
<line x1="777.6" y1="463.0" x2="775.6" y2="463.0" stroke="#555" stroke-width="0.9"/>
<line x1="566.6" y1="454.0" x2="570.1" y2="454.0" stroke="#555" stroke-width="0.9"/>
<line x1="777.6" y1="454.0" x2="774.1" y2="454.0" stroke="#555" stroke-width="0.9"/>
<text x="564" y="821.6" font-size="12.4" text-anchor="end">40°S</text>
<text x="564" y="776.2" font-size="12.4" text-anchor="end">30°S</text>
<text x="564" y="730.8" font-size="12.4" text-anchor="end">20°S</text>
<text x="564" y="685.4" font-size="12.4" text-anchor="end">10°S</text>
<text x="564" y="640.1" font-size="12.4" text-anchor="end">0°</text>
<text x="564" y="594.7" font-size="12.4" text-anchor="end">10°N</text>
<text x="564" y="549.3" font-size="12.4" text-anchor="end">20°N</text>
<text x="564" y="503.9" font-size="12.4" text-anchor="end">30°N</text>
<text x="564" y="458.6" font-size="12.4" text-anchor="end">40°N</text>
<text x="565.9" y="831" font-size="12.3" text-anchor="middle">0</text>
<text x="596.0" y="831" font-size="12.3" text-anchor="middle">1</text>
<text x="626.2" y="831" font-size="12.3" text-anchor="middle">2</text>
<text x="656.3" y="831" font-size="12.3" text-anchor="middle">3</text>
<text x="686.5" y="831" font-size="12.3" text-anchor="middle">4</text>
<text x="716.6" y="831" font-size="12.3" text-anchor="middle">5</text>
<text x="746.8" y="831" font-size="12.3" text-anchor="middle">6</text>
<text x="776.9" y="831" font-size="12.3" text-anchor="middle">7</text>
<text x="671.3" y="847.9" font-size="18.8" text-anchor="middle">LAI</text>
<text transform="translate(527.2,636.5) rotate(-90)" font-size="18.8" text-anchor="middle">Latitude</text>
<text x="572.4" y="444.1" font-size="18.9">Latitudinal LAI Products</text>
<line x1="614.2" y1="507.6" x2="682.2" y2="507.6" stroke="#ff0000" stroke-width="2.8"/>
<line x1="614.2" y1="521.3" x2="682.2" y2="521.3" stroke="#00e000" stroke-width="2.8" stroke-dasharray="2 1"/>
<line x1="614.2" y1="535.9" x2="682.2" y2="535.9" stroke="#a8a8f8" stroke-width="2" stroke-dasharray="5 1.5 2 1.5"/>
<line x1="614.2" y1="550.2" x2="682.2" y2="550.2" stroke="#000" stroke-width="2.6" stroke-dasharray="2 1.8"/>
<text x="687.4" y="513.1" font-size="15.5">MODIS</text>
<text x="687.4" y="526.8" font-size="15.5">GLASS</text>
<text x="687.4" y="540.6" font-size="15.5">CYCLOPES</text>
<text x="687.4" y="554.5" font-size="15.5">GEOV1</text>
<text x="788" y="491.5" font-size="14.72">Open shrubland</text>
<text x="788" y="541.9" font-size="14.72">Bare land</text>
<text x="788" y="589.0" font-size="14.72">Sahelian savanna</text>
<text x="788" y="608.4" font-size="14.72">Sahelian woodland</text>
<text x="788" y="636.5" font-size="14.72">Equatorial African forest</text>
<text x="788" y="665.8" font-size="14.72">Equatorial wooded grassland</text>
<text x="788" y="706.8" font-size="14.72">Subtropical wooded grassland</text>
<text x="788" y="732.8" font-size="14.72">Bare land</text>
<text x="788" y="746.0" font-size="14.72">Kalahari bush land</text>
<text x="788" y="763.3" font-size="14.72">Meridional African grassland</text>
<text x="788" y="781.2" font-size="14.72">Bushland</text>
<text x="788" y="794.9" font-size="14.72">Evergreen woodland</text>
</svg></body></html>
